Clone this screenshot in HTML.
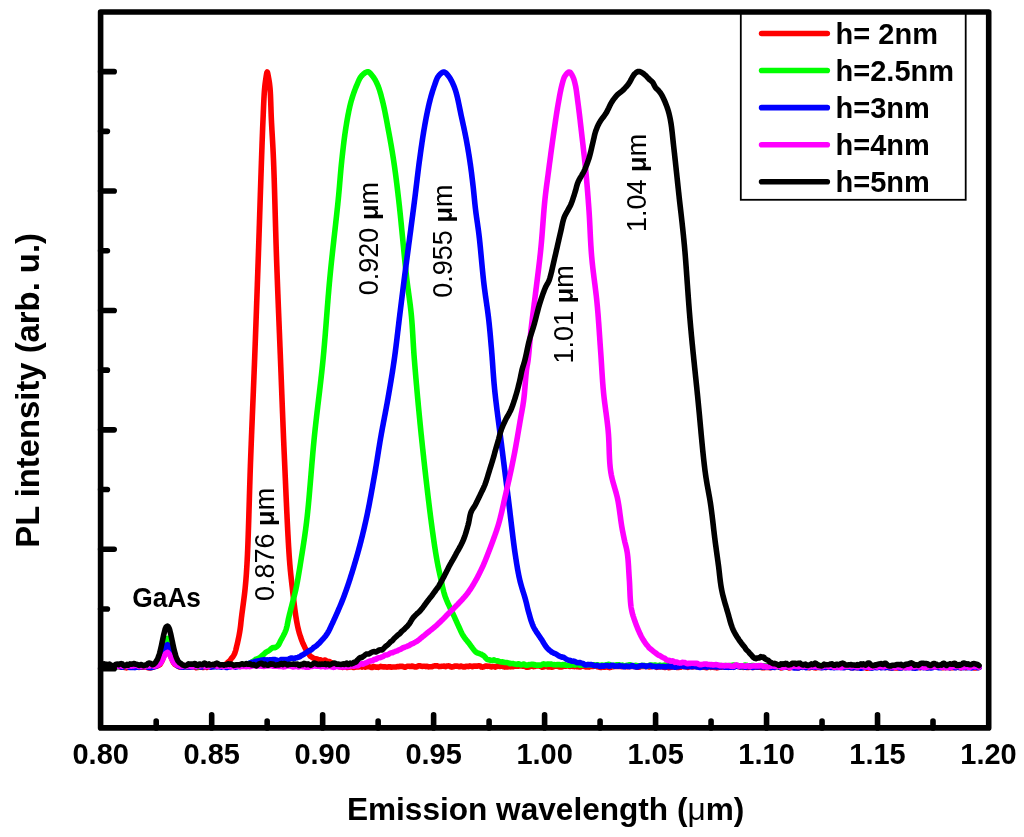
<!DOCTYPE html>
<html><head><meta charset="utf-8"><title>PL spectra</title>
<style>
html,body{margin:0;padding:0;background:#fff;}
svg{display:block;}
.b{font-family:"Liberation Sans",Arial,sans-serif;font-weight:bold;fill:#000;}
.r{font-family:"Liberation Sans",Arial,sans-serif;font-weight:normal;fill:#000;}
</style></head><body>
<svg width="1024" height="837" viewBox="0 0 1024 837">
<rect x="0" y="0" width="1024" height="837" fill="#fff"/>
<path d="M103.00,666.95L104.25,667.23L105.54,667.55L106.85,667.14L108.20,667.03L109.56,666.98L110.95,666.64L112.35,666.94L113.76,667.29L115.18,667.25L116.60,666.53L118.02,666.41L119.44,666.53L120.85,667.30L122.25,667.18L123.64,666.71L125.00,667.61L126.35,667.85L127.66,667.44L128.95,667.07L130.20,666.41L131.42,666.26L132.59,666.65L133.71,666.33L134.79,666.32L135.81,666.35L136.78,666.28L137.69,666.73L138.53,667.05L139.30,667.41L140.00,667.23L141.64,667.18L142.97,667.13L144.06,667.19L145.00,666.92L146.50,666.91L148.00,667.74L149.50,667.98L151.00,667.72L152.50,667.32L154.00,666.70L155.50,666.34L157.00,666.03L158.50,665.45L160.00,664.36L160.78,663.21L161.50,661.95L162.02,660.85L162.51,659.80L163.00,658.62L163.50,657.28L163.99,656.10L164.50,655.09L165.20,653.61L166.00,652.62L167.50,651.43L169.00,652.71L169.79,654.33L170.50,655.98L171.00,657.05L171.50,658.22L172.00,659.47L172.73,661.24L173.50,662.70L174.22,663.63L175.00,664.47L176.50,665.47L178.00,666.09L179.50,666.94L181.00,666.71L182.50,666.91L184.00,666.83L185.50,666.69L187.00,667.01L188.50,666.69L190.00,666.87L191.04,666.54L192.32,666.62L193.68,666.51L195.00,666.79L196.18,667.63L197.31,667.51L198.53,667.06L200.00,667.28L200.89,666.75L201.91,666.89L203.02,667.46L204.22,667.16L205.49,666.76L206.81,667.33L208.16,666.74L209.52,666.68L210.88,667.13L212.22,666.74L213.52,666.38L214.77,666.03L215.94,666.08L217.03,666.46L218.00,666.26L219.39,666.23L220.67,665.88L221.85,665.79L222.96,665.87L224.00,665.14L225.00,664.69L226.20,664.03L227.27,662.73L228.28,661.83L229.30,661.24L230.16,660.28L231.04,658.94L231.91,657.84L232.74,656.96L233.51,655.79L234.20,654.40L234.69,653.40L235.13,652.25L235.51,651.02L235.85,649.78L236.16,648.51L236.47,647.24L236.78,645.95L237.10,644.60L237.37,643.49L237.64,642.33L237.90,641.15L238.16,639.93L238.42,638.68L238.67,637.43L238.92,636.17L239.16,634.90L239.38,633.65L239.60,632.42L239.81,631.20L240.00,630.00L240.19,628.72L240.36,627.49L240.51,626.29L240.65,625.10L240.78,623.92L240.90,622.71L241.03,621.46L241.17,620.15L241.33,618.77L241.50,617.30L241.62,616.33L241.75,615.32L241.88,614.27L242.02,613.20L242.17,612.09L242.32,610.96L242.48,609.80L242.64,608.62L242.80,607.42L242.96,606.20L243.13,604.97L243.29,603.72L243.46,602.47L243.62,601.20L243.79,599.94L243.95,598.67L244.11,597.40L244.27,596.13L244.42,594.86L244.57,593.61L244.71,592.36L244.85,591.12L244.98,589.90L245.10,588.70L245.22,587.47L245.34,586.27L245.45,585.09L245.56,583.93L245.66,582.79L245.76,581.66L245.86,580.54L245.95,579.41L246.04,578.29L246.13,577.16L246.21,576.02L246.30,574.87L246.38,573.69L246.46,572.50L246.54,571.27L246.62,570.02L246.70,568.73L246.78,567.40L246.86,566.03L246.95,564.60L247.03,563.13L247.11,561.59L247.20,560.00L247.24,559.15L247.29,558.28L247.33,557.40L247.38,556.50L247.42,555.59L247.47,554.65L247.51,553.71L247.55,552.74L247.59,551.76L247.64,550.77L247.68,549.76L247.72,548.74L247.76,547.71L247.81,546.66L247.85,545.60L247.89,544.52L247.93,543.44L247.97,542.34L248.01,541.23L248.05,540.10L248.09,538.97L248.13,537.83L248.17,536.67L248.21,535.50L248.25,534.33L248.29,533.14L248.33,531.95L248.37,530.75L248.41,529.53L248.45,528.31L248.49,527.09L248.53,525.85L248.57,524.61L248.61,523.36L248.65,522.10L248.69,520.83L248.73,519.56L248.77,518.29L248.81,517.01L248.85,515.72L248.88,514.43L248.92,513.13L248.96,511.83L249.00,510.53L249.04,509.22L249.08,507.91L249.12,506.60L249.16,505.28L249.20,503.96L249.24,502.64L249.28,501.32L249.32,499.99L249.35,498.67L249.39,497.34L249.43,496.02L249.47,494.69L249.51,493.36L249.55,492.04L249.59,490.71L249.63,489.39L249.67,488.07L249.71,486.75L249.75,485.43L249.79,484.11L249.84,482.80L249.88,481.49L249.92,480.18L249.96,478.88L250.00,477.58L250.04,476.29L250.08,475.00L250.12,473.71L250.17,472.43L250.21,471.16L250.25,469.89L250.29,468.63L250.34,467.38L250.38,466.13L250.42,464.89L250.47,463.65L250.51,462.43L250.56,461.21L250.60,460.00L250.64,458.80L250.69,457.59L250.73,456.39L250.78,455.18L250.83,453.98L250.87,452.77L250.92,451.57L250.96,450.36L251.01,449.16L251.06,447.95L251.10,446.75L251.15,445.54L251.20,444.34L251.24,443.13L251.29,441.93L251.34,440.72L251.39,439.52L251.43,438.31L251.48,437.11L251.53,435.90L251.58,434.70L251.63,433.49L251.68,432.29L251.72,431.08L251.77,429.88L251.82,428.67L251.87,427.47L251.92,426.26L251.97,425.06L252.02,423.86L252.07,422.65L252.12,421.45L252.17,420.24L252.22,419.04L252.27,417.83L252.31,416.63L252.36,415.42L252.41,414.22L252.46,413.01L252.51,411.81L252.56,410.60L252.61,409.40L252.66,408.19L252.71,406.99L252.76,405.78L252.81,404.58L252.86,403.37L252.91,402.17L252.96,400.96L253.01,399.76L253.06,398.55L253.11,397.35L253.16,396.14L253.21,394.94L253.26,393.74L253.31,392.53L253.36,391.33L253.41,390.12L253.45,388.92L253.50,387.71L253.55,386.51L253.60,385.30L253.65,384.10L253.70,382.89L253.75,381.69L253.80,380.48L253.85,379.28L253.89,378.07L253.94,376.87L253.99,375.66L254.04,374.46L254.09,373.25L254.13,372.05L254.18,370.84L254.23,369.64L254.27,368.43L254.32,367.23L254.37,366.02L254.42,364.82L254.46,363.61L254.51,362.41L254.55,361.20L254.60,360.00L254.65,358.80L254.69,357.59L254.74,356.39L254.78,355.18L254.83,353.98L254.87,352.77L254.92,351.57L254.96,350.36L255.01,349.16L255.05,347.95L255.10,346.75L255.14,345.54L255.19,344.34L255.23,343.13L255.28,341.93L255.32,340.72L255.37,339.52L255.41,338.31L255.46,337.11L255.50,335.90L255.55,334.70L255.59,333.49L255.63,332.29L255.68,331.08L255.72,329.88L255.77,328.68L255.81,327.47L255.86,326.27L255.90,325.06L255.94,323.86L255.99,322.65L256.03,321.45L256.07,320.24L256.12,319.04L256.16,317.83L256.21,316.63L256.25,315.42L256.29,314.22L256.34,313.01L256.38,311.81L256.42,310.60L256.47,309.40L256.51,308.19L256.55,306.99L256.59,305.78L256.64,304.58L256.68,303.37L256.72,302.17L256.77,300.96L256.81,299.76L256.85,298.56L256.89,297.35L256.94,296.15L256.98,294.94L257.02,293.74L257.07,292.53L257.11,291.33L257.15,290.12L257.19,288.92L257.24,287.71L257.28,286.51L257.32,285.30L257.36,284.10L257.40,282.89L257.45,281.69L257.49,280.48L257.53,279.28L257.57,278.07L257.61,276.87L257.66,275.66L257.70,274.46L257.74,273.25L257.78,272.05L257.82,270.84L257.87,269.64L257.91,268.43L257.95,267.23L257.99,266.02L258.03,264.82L258.08,263.61L258.12,262.41L258.16,261.20L258.20,260.00L258.24,258.79L258.28,257.58L258.33,256.36L258.37,255.13L258.41,253.90L258.45,252.66L258.49,251.42L258.53,250.17L258.58,248.92L258.62,247.66L258.66,246.40L258.70,245.14L258.75,243.87L258.79,242.60L258.83,241.33L258.87,240.05L258.91,238.77L258.96,237.48L259.00,236.20L259.04,234.91L259.08,233.62L259.13,232.33L259.17,231.04L259.21,229.75L259.25,228.45L259.29,227.16L259.34,225.86L259.38,224.57L259.42,223.27L259.46,221.98L259.50,220.68L259.55,219.39L259.59,218.10L259.63,216.81L259.67,215.52L259.71,214.23L259.75,212.94L259.80,211.66L259.84,210.38L259.88,209.10L259.92,207.82L259.96,206.55L260.00,205.28L260.04,204.01L260.08,202.75L260.12,201.50L260.16,200.24L260.20,198.99L260.24,197.75L260.28,196.51L260.32,195.28L260.36,194.05L260.40,192.83L260.44,191.61L260.48,190.40L260.52,189.20L260.56,188.00L260.60,186.81L260.64,185.63L260.68,184.45L260.71,183.28L260.75,182.12L260.79,180.97L260.83,179.83L260.87,178.69L260.90,177.57L260.94,176.45L260.98,175.34L261.01,174.24L261.05,173.15L261.09,172.08L261.12,171.01L261.16,169.95L261.19,168.90L261.23,167.87L261.26,166.84L261.30,165.83L261.33,164.83L261.37,163.84L261.40,162.86L261.43,161.89L261.47,160.94L261.50,160.00L261.55,158.53L261.60,157.08L261.65,155.67L261.70,154.27L261.75,152.90L261.80,151.55L261.84,150.23L261.89,148.92L261.94,147.64L261.98,146.37L262.02,145.12L262.07,143.89L262.11,142.67L262.16,141.47L262.20,140.28L262.24,139.10L262.28,137.93L262.33,136.78L262.37,135.63L262.41,134.49L262.46,133.36L262.50,132.24L262.54,131.12L262.59,130.01L262.63,128.90L262.67,127.79L262.72,126.68L262.76,125.57L262.81,124.46L262.86,123.35L262.90,122.24L262.95,121.12L263.00,120.00L263.06,118.71L263.11,117.41L263.17,116.11L263.22,114.80L263.28,113.49L263.33,112.18L263.38,110.87L263.44,109.57L263.49,108.27L263.55,106.98L263.60,105.70L263.66,104.43L263.72,103.18L263.77,101.95L263.83,100.73L263.89,99.53L263.95,98.36L264.02,97.21L264.08,96.08L264.15,94.98L264.21,93.92L264.28,92.89L264.35,91.89L264.43,90.92L264.50,90.00L264.63,88.52L264.76,87.14L264.89,85.84L265.03,84.60L265.17,83.42L265.32,82.28L265.47,81.17L265.63,80.08L265.80,79.00L266.06,77.27L266.33,75.42L266.62,73.72L266.91,72.49L267.20,71.94L267.48,72.40L267.77,73.46L268.05,74.91L268.34,76.51L268.60,78.00L268.80,79.09L268.99,80.18L269.18,81.31L269.36,82.48L269.53,83.72L269.69,85.04L269.85,86.46L270.00,88.00L270.08,88.91L270.15,89.86L270.22,90.85L270.29,91.89L270.35,92.96L270.41,94.07L270.47,95.21L270.52,96.39L270.57,97.59L270.62,98.82L270.67,100.07L270.71,101.35L270.76,102.64L270.80,103.95L270.85,105.27L270.89,106.61L270.94,107.95L270.98,109.30L271.03,110.65L271.07,112.00L271.12,113.35L271.17,114.70L271.23,116.04L271.28,117.37L271.34,118.69L271.40,120.00L271.46,121.14L271.51,122.27L271.57,123.40L271.63,124.52L271.69,125.64L271.75,126.76L271.81,127.87L271.87,128.99L271.93,130.10L272.00,131.22L272.06,132.34L272.13,133.46L272.19,134.59L272.26,135.72L272.32,136.86L272.39,138.02L272.45,139.18L272.52,140.35L272.59,141.53L272.65,142.73L272.72,143.94L272.79,145.17L272.85,146.41L272.92,147.67L272.99,148.95L273.05,150.25L273.12,151.57L273.18,152.91L273.25,154.28L273.31,155.67L273.37,157.09L273.44,158.53L273.50,160.00L273.54,160.94L273.58,161.89L273.62,162.86L273.65,163.84L273.69,164.83L273.73,165.83L273.77,166.84L273.81,167.87L273.84,168.90L273.88,169.95L273.92,171.01L273.96,172.07L273.99,173.15L274.03,174.24L274.07,175.34L274.10,176.45L274.14,177.56L274.18,178.69L274.21,179.83L274.25,180.97L274.28,182.12L274.32,183.28L274.36,184.45L274.39,185.62L274.43,186.81L274.46,188.00L274.50,189.19L274.54,190.40L274.57,191.61L274.61,192.82L274.64,194.05L274.68,195.28L274.71,196.51L274.75,197.75L274.79,198.99L274.82,200.24L274.86,201.49L274.89,202.75L274.93,204.01L274.96,205.28L275.00,206.55L275.03,207.82L275.07,209.10L275.11,210.38L275.14,211.66L275.18,212.94L275.21,214.23L275.25,215.52L275.29,216.81L275.32,218.10L275.36,219.39L275.40,220.68L275.43,221.98L275.47,223.27L275.51,224.57L275.54,225.86L275.58,227.16L275.62,228.45L275.65,229.75L275.69,231.04L275.73,232.33L275.77,233.62L275.80,234.91L275.84,236.20L275.88,237.48L275.92,238.77L275.96,240.05L275.99,241.33L276.03,242.60L276.07,243.87L276.11,245.14L276.15,246.40L276.19,247.66L276.23,248.92L276.27,250.17L276.31,251.42L276.35,252.66L276.39,253.90L276.43,255.13L276.47,256.36L276.52,257.58L276.56,258.79L276.60,260.00L276.64,261.20L276.68,262.41L276.73,263.61L276.77,264.82L276.81,266.02L276.86,267.23L276.90,268.43L276.94,269.64L276.99,270.84L277.03,272.05L277.08,273.25L277.12,274.46L277.17,275.66L277.21,276.87L277.25,278.07L277.30,279.28L277.35,280.48L277.39,281.69L277.44,282.89L277.48,284.10L277.53,285.30L277.57,286.51L277.62,287.71L277.67,288.92L277.71,290.12L277.76,291.33L277.81,292.53L277.85,293.74L277.90,294.94L277.95,296.15L277.99,297.35L278.04,298.56L278.09,299.76L278.14,300.96L278.18,302.17L278.23,303.37L278.28,304.58L278.33,305.78L278.37,306.99L278.42,308.19L278.47,309.40L278.52,310.60L278.57,311.81L278.61,313.01L278.66,314.22L278.71,315.42L278.76,316.63L278.81,317.83L278.86,319.04L278.90,320.24L278.95,321.45L279.00,322.65L279.05,323.86L279.10,325.06L279.15,326.27L279.20,327.47L279.24,328.68L279.29,329.88L279.34,331.08L279.39,332.29L279.44,333.49L279.49,334.70L279.54,335.90L279.58,337.11L279.63,338.31L279.68,339.52L279.73,340.72L279.78,341.93L279.83,343.13L279.88,344.34L279.92,345.54L279.97,346.75L280.02,347.95L280.07,349.16L280.12,350.36L280.16,351.57L280.21,352.77L280.26,353.98L280.31,355.18L280.36,356.39L280.40,357.59L280.45,358.80L280.50,360.00L280.55,361.20L280.59,362.41L280.64,363.61L280.69,364.82L280.74,366.02L280.78,367.23L280.83,368.43L280.88,369.64L280.92,370.84L280.97,372.05L281.02,373.25L281.06,374.46L281.11,375.66L281.16,376.87L281.20,378.07L281.25,379.28L281.30,380.48L281.34,381.69L281.39,382.89L281.43,384.10L281.48,385.30L281.53,386.51L281.57,387.71L281.62,388.92L281.67,390.12L281.71,391.33L281.76,392.53L281.80,393.74L281.85,394.94L281.90,396.15L281.94,397.35L281.99,398.56L282.04,399.76L282.08,400.97L282.13,402.17L282.17,403.37L282.22,404.58L282.27,405.78L282.31,406.99L282.36,408.19L282.41,409.40L282.45,410.60L282.50,411.81L282.55,413.01L282.60,414.22L282.64,415.42L282.69,416.63L282.74,417.83L282.79,419.04L282.83,420.24L282.88,421.45L282.93,422.65L282.98,423.86L283.02,425.06L283.07,426.27L283.12,427.47L283.17,428.68L283.22,429.88L283.27,431.09L283.32,432.29L283.37,433.50L283.42,434.70L283.46,435.91L283.51,437.11L283.56,438.31L283.61,439.52L283.66,440.72L283.72,441.93L283.77,443.13L283.82,444.34L283.87,445.54L283.92,446.75L283.97,447.95L284.02,449.16L284.07,450.36L284.13,451.57L284.18,452.77L284.23,453.98L284.29,455.18L284.34,456.39L284.39,457.59L284.45,458.80L284.50,460.00L284.55,461.21L284.61,462.43L284.66,463.65L284.72,464.89L284.77,466.13L284.83,467.38L284.88,468.63L284.94,469.89L285.00,471.16L285.05,472.44L285.11,473.72L285.17,475.00L285.22,476.29L285.28,477.59L285.34,478.88L285.39,480.19L285.45,481.49L285.51,482.80L285.57,484.12L285.62,485.43L285.68,486.75L285.74,488.07L285.80,489.39L285.86,490.72L285.92,492.04L285.97,493.37L286.03,494.69L286.09,496.02L286.15,497.35L286.21,498.67L286.27,500.00L286.33,501.32L286.39,502.64L286.45,503.97L286.51,505.28L286.57,506.60L286.63,507.91L286.69,509.23L286.75,510.53L286.81,511.84L286.87,513.14L286.94,514.43L287.00,515.73L287.06,517.01L287.12,518.29L287.18,519.57L287.24,520.84L287.30,522.10L287.36,523.36L287.43,524.61L287.49,525.85L287.55,527.09L287.61,528.32L287.67,529.54L287.74,530.75L287.80,531.95L287.86,533.15L287.92,534.33L287.99,535.51L288.05,536.67L288.11,537.83L288.17,538.97L288.24,540.11L288.30,541.23L288.36,542.34L288.43,543.44L288.49,544.53L288.55,545.60L288.61,546.66L288.68,547.71L288.74,548.75L288.80,549.77L288.87,550.77L288.93,551.77L288.99,552.74L289.06,553.71L289.12,554.65L289.18,555.59L289.25,556.50L289.31,557.40L289.37,558.29L289.44,559.15L289.50,560.00L289.62,561.53L289.73,563.00L289.85,564.42L289.97,565.79L290.08,567.12L290.20,568.40L290.31,569.65L290.43,570.86L290.55,572.04L290.66,573.20L290.78,574.33L290.90,575.45L291.02,576.54L291.13,577.63L291.25,578.71L291.38,579.79L291.50,580.86L291.62,581.94L291.75,583.03L291.87,584.12L292.00,585.24L292.13,586.37L292.27,587.52L292.40,588.70L292.54,589.90L292.67,591.12L292.82,592.36L292.96,593.60L293.10,594.86L293.25,596.13L293.39,597.40L293.54,598.67L293.69,599.94L293.84,601.21L293.99,602.47L294.15,603.73L294.30,604.97L294.45,606.21L294.61,607.43L294.76,608.63L294.92,609.81L295.07,610.97L295.23,612.10L295.38,613.20L295.54,614.28L295.69,615.32L295.85,616.33L296.00,617.30L296.24,618.79L296.48,620.20L296.71,621.54L296.94,622.83L297.18,624.07L297.42,625.28L297.67,626.46L297.93,627.64L298.21,628.82L298.50,630.00L298.85,631.34L299.21,632.66L299.59,633.96L299.98,635.23L300.39,636.49L300.81,637.77L301.25,638.98L301.70,640.21L302.20,641.54L302.72,642.83L303.25,644.02L303.81,645.20L304.38,646.43L304.98,647.74L305.60,648.90L306.21,649.87L306.82,651.02L307.46,652.03L308.12,653.01L308.81,653.97L309.53,655.21L310.30,656.14L311.30,656.64L312.35,657.46L313.45,658.10L314.60,658.96L315.80,658.77L317.14,659.01L318.58,659.72L320.04,659.71L321.47,660.27L322.80,660.51L324.03,660.28L325.18,659.99L326.31,660.83L327.50,661.53L328.53,661.42L329.59,661.55L330.67,662.25L331.77,663.15L332.88,664.02L334.00,664.14L335.29,664.47L336.55,665.15L337.84,666.13L339.24,666.66L340.80,666.63L341.76,667.05L342.76,667.43L343.79,667.08L344.86,666.59L345.96,666.83L347.11,667.55L348.30,667.33L349.53,666.88L350.80,666.93L352.13,666.75L353.50,667.41L354.92,667.13L356.40,667.02L357.32,666.87L358.25,666.49L359.21,666.86L360.18,666.68L361.18,666.73L362.19,667.11L363.22,666.52L364.27,666.66L365.34,667.11L366.43,666.67L367.53,666.60L368.65,666.79L369.79,666.73L370.94,667.50L372.11,667.50L373.29,666.50L374.50,666.74L375.71,667.12L376.95,666.99L378.20,667.33L379.46,666.86L380.74,666.42L382.03,666.78L383.33,666.91L384.65,666.70L385.99,666.99L387.33,667.14L388.69,666.84L390.06,666.84L391.45,667.18L392.84,667.04L394.25,666.93L395.67,667.07L397.10,666.51L398.55,666.68L400.00,666.34L400.96,666.48L401.94,666.28L402.93,666.51L403.93,667.02L404.94,667.18L405.96,666.95L406.99,666.35L408.03,666.32L409.08,666.24L410.14,666.54L411.21,666.39L412.29,666.00L413.38,666.56L414.48,666.88L415.59,666.88L416.71,666.90L417.83,666.14L418.97,665.75L420.11,665.77L421.26,666.29L422.41,666.41L423.58,666.32L424.75,666.32L425.93,666.61L427.11,666.27L428.30,666.87L429.50,666.78L430.70,666.71L431.91,666.78L433.13,666.15L434.35,665.87L435.58,665.92L436.81,665.76L438.04,666.12L439.28,666.58L440.53,666.48L441.78,666.24L443.03,666.33L444.29,666.14L445.55,666.58L446.81,666.11L448.08,665.90L449.35,666.03L450.62,666.72L451.89,667.10L453.17,666.80L454.45,666.01L455.73,666.13L457.01,666.15L458.29,666.27L459.58,666.76L460.86,666.10L462.15,666.39L463.44,667.01L464.72,667.05L466.01,666.22L467.30,666.38L468.58,666.58L469.87,665.89L471.15,666.13L472.44,666.71L473.72,666.15L475.00,666.11L476.28,666.15L477.56,666.13L478.84,665.72L480.11,665.93L481.38,667.03L482.65,667.12L483.91,666.78L485.18,666.14L486.44,666.09L487.69,666.34L488.94,666.17L490.19,666.52L491.43,666.96L492.67,666.44L493.91,666.43L495.14,667.08L496.36,666.65L497.58,665.92L498.79,666.25L500.00,666.46L501.20,665.94L502.41,666.20L503.61,666.84L504.82,667.08L506.02,666.94L507.23,667.02L508.43,666.58L509.64,666.51L510.84,666.85L512.05,666.63L513.25,666.71L514.46,666.22L515.66,666.08L516.87,666.09L518.07,666.32L519.28,666.01L520.48,665.90L521.69,666.04L522.89,666.30L524.10,666.27L525.30,666.61L526.51,667.23L527.71,667.14L528.92,666.97L530.12,666.30L531.33,666.12L532.53,666.06L533.73,666.58L534.94,666.39L536.14,666.04L537.35,665.75L538.55,665.89L539.76,666.12L540.96,666.54L542.17,667.18L543.37,666.96L544.58,666.35L545.78,666.20L546.99,666.31L548.19,666.97L549.40,666.75L550.60,667.00L551.81,667.20L553.01,667.05L554.22,666.14L555.42,666.18L556.63,666.26L557.83,666.25L559.04,666.90L560.24,666.72L561.45,666.95L562.65,666.63L563.86,666.09L565.06,666.26L566.27,666.12L567.47,665.86L568.67,666.11L569.88,666.48L571.08,666.08L572.29,666.25L573.49,666.56L574.70,666.59L575.90,666.37L577.11,666.74L578.31,666.61L579.52,666.99L580.72,666.90L581.93,666.25L583.13,666.14L584.34,666.44L585.54,666.89L586.75,666.68L587.95,666.74L589.16,667.07L590.36,666.49L591.57,666.33L592.77,666.38L593.98,666.17L595.18,665.89L596.39,666.05L597.59,666.79L598.80,667.06L600.00,667.42L601.20,667.45L602.41,666.82L603.61,667.11L604.82,667.29L606.02,666.71L607.23,667.01L608.43,667.30L609.64,667.62L610.84,667.37L612.05,666.70L613.25,666.71L614.46,666.34L615.66,666.53L616.87,666.49L618.07,666.19L619.28,666.44L620.48,666.58L621.69,666.68L622.89,666.43L624.10,666.29L625.30,666.58L626.51,666.65L627.71,666.50L628.92,666.82L630.12,666.44L631.33,666.18L632.53,666.47L633.73,666.56L634.94,666.44L636.14,666.92L637.35,667.19L638.55,667.12L639.76,666.96L640.96,666.33L642.17,666.50L643.37,666.49L644.58,666.25L645.78,666.41L646.99,666.30L648.19,666.75L649.40,667.00L650.60,666.83L651.81,666.57L653.01,666.33L654.22,666.15L655.42,666.69L656.63,667.38L657.83,667.07L659.04,666.72L660.24,666.91L661.45,666.59L662.65,666.81L663.86,667.26L665.06,667.50L666.27,666.99L667.47,667.16L668.67,667.64L669.88,667.52L671.08,667.27L672.29,667.12L673.49,666.85L674.70,666.71L675.90,666.77L677.11,667.44L678.31,667.53L679.52,667.14L680.72,667.24L681.93,666.40L683.13,666.32L684.34,666.75L685.54,666.68L686.75,666.92L687.95,667.37L689.16,666.61L690.36,666.33L691.57,666.59L692.77,666.99L693.98,666.52L695.18,666.27L696.39,666.79L697.59,666.77L698.80,666.62L700.00,666.95L701.20,667.21L702.41,667.18L703.61,667.21L704.82,667.28L706.02,667.65L707.23,667.67L708.43,666.94L709.64,666.92L710.84,667.37L712.05,667.04L713.25,667.30L714.46,667.45L715.66,667.54L716.87,667.83L718.07,667.50L719.28,666.80L720.48,667.05L721.69,667.11L722.89,667.07L724.10,666.82L725.30,666.83L726.51,667.29L727.71,667.10L728.92,666.64L730.12,666.56L731.33,666.60L732.53,666.59L733.73,666.80L734.94,666.42L736.14,666.19L737.35,666.19L738.55,666.49L739.76,667.01L740.96,666.66L742.17,666.98L743.37,667.41L744.58,667.04L745.78,666.82L746.99,667.57L748.19,667.53L749.40,666.59L750.60,666.61L751.81,667.14L753.01,667.44L754.22,667.19L755.42,667.24L756.63,666.99L757.83,667.22L759.04,666.93L760.24,666.95L761.45,667.53L762.65,667.81L763.86,667.72L765.06,667.33L766.27,667.16L767.47,667.42L768.67,667.53L769.88,667.74L771.08,667.51L772.29,666.75L773.49,666.91L774.70,667.21L775.90,666.76L777.11,666.45L778.31,666.45L779.52,667.25L780.72,667.96L781.93,667.79L783.13,666.99L784.34,667.22L785.54,667.21L786.75,667.27L787.95,667.29L789.16,667.89L790.36,667.79L791.57,666.91L792.77,667.11L793.98,666.61L795.18,666.37L796.39,666.83L797.59,667.61L798.80,667.76L800.00,666.86L801.21,666.63L802.41,666.55L803.62,667.05L804.83,667.15L806.04,666.96L807.26,667.04L808.47,667.65L809.69,667.68L810.91,667.04L812.12,667.04L813.34,667.43L814.56,667.81L815.78,667.89L817.01,667.37L818.23,667.44L819.45,667.49L820.68,667.48L821.90,666.77L823.13,666.51L824.36,666.78L825.58,667.51L826.81,667.10L828.04,666.96L829.27,666.68L830.49,666.66L831.72,666.59L832.95,666.98L834.18,666.88L835.41,667.16L836.64,666.90L837.86,666.80L839.09,667.06L840.32,666.97L841.55,666.71L842.77,666.41L844.00,666.68L845.23,667.49L846.45,667.01L847.68,666.52L848.90,666.68L850.12,667.32L851.35,667.76L852.57,667.25L853.79,667.60L855.01,667.37L856.23,667.28L857.45,667.58L858.66,667.08L859.88,666.69L861.09,667.22L862.30,667.54L863.51,667.40L864.72,667.23L865.93,667.89L867.14,668.13L868.34,668.03L869.54,667.56L870.75,667.77L871.94,667.57L873.14,666.77L874.34,666.41L875.53,666.51L876.72,666.49L877.91,666.53L879.10,667.04L880.28,667.47L881.46,667.16L882.64,667.02L883.82,666.56L884.99,666.91L886.16,667.54L887.33,666.88L888.50,667.25L889.66,667.82L890.82,667.89L891.98,667.67L893.14,667.40L894.29,667.77L895.44,667.95L896.58,667.98L897.73,667.86L898.86,667.19L900.00,667.66L901.28,667.45L902.57,667.41L903.84,667.25L905.11,667.51L906.38,666.91L907.65,667.09L908.91,666.95L910.16,666.99L911.42,667.16L912.67,667.58L913.91,667.71L915.16,667.32L916.40,667.36L917.63,667.09L918.87,667.14L920.10,667.65L921.32,667.08L922.55,666.65L923.77,667.03L924.99,667.42L926.21,667.15L927.43,667.51L928.64,667.54L929.85,667.42L931.06,666.81L932.27,666.52L933.48,666.63L934.68,666.94L935.88,666.95L937.08,666.66L938.28,667.06L939.48,667.11L940.68,667.06L941.88,667.47L943.07,667.77L944.27,667.28L945.46,667.58L946.65,667.35L947.85,667.38L949.04,667.12L950.23,667.72L951.42,667.61L952.61,667.74L953.81,667.11L955.00,667.16L956.19,667.39L957.38,666.89L958.57,666.96L959.77,667.62L960.96,667.87L962.15,667.13L963.35,666.77L964.54,667.19L965.74,667.71L966.94,667.12L968.14,667.27L969.34,667.26L970.54,667.31L971.74,667.05L972.95,667.49L974.15,667.99L975.36,667.97L976.57,667.61L977.79,667.39L979.00,667.42" fill="none" stroke="#ff0000" stroke-width="5.6" stroke-linejoin="round" stroke-linecap="round"/>
<path d="M103.00,666.52L104.25,666.75L105.54,666.61L106.85,665.89L108.20,665.66L109.56,666.01L110.95,666.25L112.35,666.83L113.76,666.86L115.18,666.68L116.60,666.62L118.02,666.51L119.44,666.02L120.85,666.05L122.25,666.13L123.64,666.59L125.00,666.15L126.35,666.43L127.66,666.06L128.95,666.37L130.20,666.21L131.42,666.32L132.59,666.55L133.71,665.71L134.79,665.77L135.81,666.68L136.78,666.35L137.69,666.02L138.53,666.95L139.30,666.91L140.00,665.97L141.64,665.86L142.97,665.67L144.06,665.88L145.00,666.13L146.50,665.91L148.00,666.12L149.50,665.58L151.00,665.72L152.50,666.36L154.00,665.99L155.50,665.57L157.00,664.87L158.50,663.08L159.29,661.61L160.00,659.96L160.40,659.01L160.78,657.93L161.14,656.73L161.50,655.47L161.89,654.05L162.26,652.60L162.63,651.15L163.00,649.69L163.30,648.48L163.59,647.28L163.88,646.11L164.18,644.97L164.50,643.88L164.95,642.28L165.42,640.76L166.00,639.64L167.50,638.35L168.29,639.08L169.00,640.46L169.43,641.52L169.80,642.74L170.15,644.04L170.50,645.31L170.81,646.47L171.11,647.66L171.40,648.88L171.70,650.07L172.00,651.25L172.37,652.69L172.73,654.11L173.11,655.46L173.50,656.78L173.98,658.25L174.47,659.66L175.00,661.02L175.71,662.58L176.50,663.82L178.00,665.40L179.50,665.74L181.00,666.40L182.50,666.04L184.00,665.85L185.50,666.55L187.00,666.62L188.50,665.65L190.00,665.81L190.94,666.34L192.04,665.92L193.36,665.46L195.00,665.08L195.71,665.25L196.49,666.13L197.36,666.82L198.30,666.78L199.31,665.95L200.38,665.25L201.51,665.61L202.69,666.34L203.91,666.50L205.18,666.10L206.48,665.62L207.82,665.79L209.17,665.91L210.55,665.92L211.95,665.80L213.35,666.48L214.75,666.38L216.16,665.48L217.56,665.56L218.94,666.08L220.31,665.83L221.66,666.22L222.98,666.01L224.26,666.03L225.51,665.88L226.71,665.26L227.86,665.10L228.96,665.23L230.00,665.71L231.39,665.60L232.77,665.17L234.13,665.64L235.47,665.25L236.79,664.87L238.08,665.22L239.34,665.76L240.57,665.42L241.76,665.37L242.91,665.68L244.03,665.64L245.09,665.12L246.11,664.50L247.08,664.48L248.00,664.60L249.34,664.01L250.50,663.09L251.55,662.20L252.56,661.61L253.59,661.20L254.70,660.28L255.75,659.29L256.83,659.11L257.93,658.72L259.04,657.96L260.16,657.25L261.28,656.41L262.40,655.39L263.50,654.61L264.49,653.56L265.50,652.57L266.52,651.90L267.53,651.29L268.54,650.88L269.53,650.09L270.49,649.28L271.41,648.60L272.30,647.84L273.60,647.63L274.85,647.59L276.02,647.07L277.10,646.41L277.90,645.72L278.60,644.76L279.24,643.63L279.84,642.32L280.45,641.00L281.10,639.77L281.64,638.83L282.20,637.83L282.77,636.78L283.34,635.71L283.90,634.57L284.45,633.44L284.97,632.32L285.46,631.17L285.90,629.99L286.29,628.82L286.63,627.60L286.94,626.36L287.21,625.10L287.47,623.83L287.72,622.53L287.97,621.23L288.23,619.92L288.50,618.61L288.80,617.30L289.08,616.14L289.37,614.97L289.66,613.78L289.96,612.59L290.26,611.40L290.57,610.20L290.87,609.00L291.18,607.80L291.49,606.59L291.79,605.39L292.10,604.20L292.40,603.00L292.70,601.82L293.00,600.68L293.30,599.55L293.60,598.42L293.90,597.30L294.20,596.17L294.50,595.03L294.80,593.85L295.10,592.63L295.40,591.38L295.70,590.07L296.00,588.70L296.21,587.70L296.42,586.67L296.63,585.62L296.84,584.55L297.05,583.46L297.26,582.34L297.47,581.21L297.67,580.05L297.88,578.89L298.09,577.70L298.30,576.50L298.51,575.28L298.72,574.05L298.93,572.81L299.13,571.56L299.34,570.30L299.55,569.03L299.76,567.75L299.96,566.47L300.17,565.18L300.38,563.89L300.59,562.59L300.79,561.30L301.00,560.00L301.18,558.89L301.35,557.78L301.53,556.67L301.71,555.56L301.89,554.45L302.07,553.33L302.24,552.22L302.42,551.10L302.60,549.98L302.78,548.84L302.96,547.71L303.13,546.57L303.31,545.42L303.49,544.27L303.67,543.10L303.84,541.93L304.02,540.75L304.20,539.56L304.37,538.36L304.55,537.14L304.73,535.91L304.90,534.67L305.08,533.42L305.25,532.15L305.43,530.87L305.60,529.57L305.77,528.26L305.95,526.93L306.12,525.58L306.29,524.21L306.46,522.83L306.63,521.42L306.80,520.00L306.92,519.00L307.03,517.99L307.15,516.97L307.26,515.94L307.38,514.89L307.49,513.83L307.60,512.76L307.71,511.67L307.82,510.58L307.94,509.47L308.05,508.36L308.16,507.23L308.27,506.10L308.38,504.95L308.49,503.80L308.59,502.63L308.70,501.46L308.81,500.28L308.92,499.09L309.03,497.89L309.13,496.69L309.24,495.48L309.35,494.26L309.45,493.04L309.56,491.81L309.67,490.57L309.77,489.33L309.88,488.08L309.98,486.83L310.09,485.57L310.20,484.31L310.30,483.05L310.41,481.78L310.51,480.51L310.62,479.24L310.73,477.96L310.83,476.68L310.94,475.40L311.05,474.12L311.15,472.83L311.26,471.55L311.37,470.26L311.47,468.97L311.58,467.69L311.69,466.40L311.79,465.12L311.90,463.83L312.01,462.55L312.12,461.26L312.23,459.98L312.34,458.70L312.45,457.43L312.56,456.15L312.67,454.88L312.78,453.62L312.89,452.35L313.01,451.09L313.12,449.84L313.23,448.59L313.35,447.34L313.46,446.10L313.58,444.87L313.69,443.64L313.81,442.41L313.92,441.20L314.04,439.99L314.16,438.78L314.28,437.59L314.40,436.40L314.52,435.18L314.65,433.96L314.78,432.75L314.91,431.54L315.03,430.32L315.16,429.12L315.29,427.91L315.43,426.71L315.56,425.50L315.69,424.30L315.82,423.10L315.96,421.91L316.09,420.71L316.23,419.52L316.37,418.33L316.50,417.14L316.64,415.95L316.78,414.76L316.92,413.57L317.05,412.38L317.19,411.20L317.33,410.01L317.47,408.83L317.61,407.65L317.75,406.47L317.89,405.28L318.03,404.10L318.17,402.92L318.31,401.74L318.45,400.56L318.59,399.38L318.73,398.20L318.88,397.02L319.02,395.84L319.16,394.66L319.30,393.48L319.44,392.30L319.58,391.12L319.72,389.94L319.85,388.75L319.99,387.57L320.13,386.39L320.27,385.20L320.41,384.02L320.54,382.83L320.68,381.64L320.82,380.46L320.95,379.27L321.08,378.08L321.22,376.88L321.35,375.69L321.48,374.49L321.62,373.30L321.75,372.10L321.88,370.90L322.01,369.70L322.13,368.49L322.26,367.28L322.39,366.08L322.51,364.87L322.64,363.65L322.76,362.44L322.88,361.22L323.00,360.00L323.12,358.82L323.23,357.63L323.34,356.44L323.46,355.25L323.57,354.05L323.68,352.86L323.79,351.66L323.89,350.46L324.00,349.26L324.11,348.05L324.21,346.85L324.32,345.64L324.42,344.43L324.52,343.22L324.63,342.01L324.73,340.80L324.83,339.59L324.93,338.37L325.03,337.15L325.13,335.94L325.23,334.72L325.33,333.50L325.42,332.28L325.52,331.06L325.62,329.83L325.72,328.61L325.81,327.39L325.91,326.16L326.00,324.94L326.10,323.71L326.19,322.49L326.29,321.26L326.38,320.04L326.48,318.81L326.57,317.59L326.67,316.36L326.76,315.14L326.86,313.91L326.95,312.69L327.05,311.46L327.14,310.24L327.24,309.02L327.33,307.79L327.43,306.57L327.53,305.35L327.62,304.12L327.72,302.90L327.82,301.69L327.91,300.47L328.01,299.25L328.11,298.03L328.21,296.82L328.31,295.60L328.41,294.39L328.51,293.18L328.61,291.97L328.71,290.76L328.82,289.55L328.92,288.35L329.02,287.14L329.13,285.94L329.23,284.74L329.34,283.54L329.45,282.35L329.56,281.15L329.67,279.96L329.78,278.77L329.89,277.59L330.00,276.40L330.12,275.18L330.24,273.95L330.36,272.72L330.48,271.48L330.60,270.24L330.73,269.00L330.85,267.76L330.98,266.51L331.11,265.26L331.24,264.01L331.37,262.76L331.50,261.50L331.63,260.25L331.77,258.99L331.90,257.73L332.03,256.47L332.17,255.21L332.31,253.95L332.44,252.69L332.58,251.43L332.72,250.17L332.85,248.92L332.99,247.66L333.13,246.40L333.27,245.15L333.41,243.90L333.55,242.65L333.69,241.40L333.83,240.15L333.96,238.91L334.10,237.67L334.24,236.43L334.38,235.20L334.52,233.97L334.65,232.75L334.79,231.52L334.93,230.31L335.06,229.09L335.20,227.88L335.33,226.68L335.47,225.49L335.60,224.30L335.73,223.11L335.86,221.93L335.99,220.76L336.12,219.59L336.25,218.43L336.38,217.28L336.50,216.13L336.63,214.99L336.75,213.86L336.87,212.74L336.99,211.63L337.11,210.52L337.23,209.43L337.34,208.34L337.46,207.26L337.57,206.20L337.68,205.14L337.79,204.09L337.89,203.05L338.00,202.02L338.10,201.01L338.20,200.00L338.34,198.61L338.47,197.24L338.60,195.90L338.72,194.57L338.84,193.25L338.96,191.95L339.07,190.67L339.18,189.41L339.29,188.15L339.40,186.91L339.51,185.69L339.61,184.47L339.71,183.27L339.81,182.07L339.91,180.89L340.01,179.71L340.11,178.55L340.20,177.39L340.30,176.23L340.40,175.08L340.50,173.94L340.60,172.80L340.70,171.66L340.80,170.53L340.90,169.39L341.00,168.26L341.11,167.13L341.22,166.00L341.33,164.87L341.44,163.73L341.56,162.59L341.68,161.45L341.80,160.30L341.93,159.06L342.07,157.81L342.21,156.57L342.34,155.33L342.48,154.09L342.61,152.86L342.75,151.63L342.89,150.40L343.03,149.17L343.17,147.95L343.31,146.73L343.45,145.52L343.60,144.31L343.74,143.11L343.89,141.91L344.04,140.72L344.19,139.53L344.34,138.34L344.50,137.17L344.66,136.00L344.81,134.83L344.98,133.68L345.14,132.53L345.31,131.39L345.48,130.25L345.65,129.13L345.82,128.01L346.00,126.90L346.21,125.62L346.42,124.34L346.63,123.07L346.84,121.80L347.06,120.55L347.27,119.30L347.49,118.05L347.72,116.82L347.94,115.59L348.17,114.38L348.40,113.17L348.64,111.98L348.88,110.79L349.13,109.62L349.38,108.47L349.63,107.32L349.89,106.19L350.16,105.06L350.43,103.96L350.71,102.87L351.00,101.80L351.37,100.48L351.75,99.17L352.14,97.86L352.54,96.59L352.94,95.33L353.36,94.11L353.78,92.89L354.21,91.69L354.64,90.51L355.07,89.36L355.50,88.26L355.94,87.16L356.37,86.11L356.80,85.10L357.36,83.79L357.89,82.49L358.42,81.25L358.96,80.08L359.53,78.93L360.13,77.88L360.78,76.88L361.50,75.97L362.43,74.97L363.46,74.02L364.54,73.18L365.64,72.47L366.70,71.94L367.70,71.71L368.73,72.03L369.71,72.78L370.67,73.79L371.60,74.90L372.50,75.97L373.21,76.90L373.90,77.92L374.58,78.94L375.24,80.05L375.88,81.25L376.51,82.50L377.11,83.77L377.70,85.10L378.12,86.11L378.52,87.16L378.91,88.24L379.29,89.36L379.66,90.51L380.01,91.68L380.36,92.88L380.71,94.10L381.05,95.34L381.38,96.61L381.71,97.89L382.04,99.18L382.37,100.48L382.70,101.80L382.97,102.88L383.23,103.97L383.48,105.07L383.74,106.20L383.99,107.33L384.24,108.47L384.48,109.63L384.72,110.80L384.96,111.99L385.20,113.19L385.44,114.40L385.67,115.61L385.91,116.84L386.14,118.07L386.38,119.31L386.61,120.56L386.85,121.81L387.08,123.07L387.32,124.35L387.56,125.62L387.80,126.90L388.01,128.01L388.22,129.13L388.43,130.26L388.64,131.39L388.85,132.53L389.07,133.68L389.28,134.84L389.49,136.00L389.71,137.17L389.92,138.35L390.13,139.53L390.35,140.72L390.56,141.91L390.77,143.11L390.98,144.31L391.19,145.52L391.40,146.74L391.61,147.95L391.82,149.17L392.02,150.40L392.23,151.62L392.43,152.86L392.63,154.09L392.83,155.33L393.02,156.57L393.22,157.81L393.41,159.05L393.60,160.30L393.77,161.45L393.94,162.59L394.11,163.73L394.27,164.86L394.44,166.00L394.60,167.13L394.76,168.26L394.91,169.39L395.07,170.52L395.22,171.65L395.38,172.79L395.53,173.93L395.68,175.07L395.83,176.22L395.98,177.37L396.13,178.54L396.27,179.70L396.42,180.88L396.57,182.06L396.72,183.26L396.87,184.46L397.01,185.67L397.16,186.90L397.31,188.14L397.46,189.39L397.61,190.66L397.76,191.94L397.92,193.24L398.07,194.56L398.22,195.89L398.38,197.24L398.54,198.61L398.70,200.00L398.82,201.03L398.94,202.07L399.05,203.13L399.17,204.21L399.29,205.30L399.41,206.41L399.54,207.54L399.66,208.68L399.78,209.84L399.90,211.01L400.03,212.19L400.15,213.39L400.27,214.59L400.40,215.81L400.52,217.04L400.65,218.28L400.78,219.52L400.90,220.78L401.03,222.04L401.15,223.32L401.28,224.60L401.41,225.88L401.54,227.17L401.66,228.47L401.79,229.77L401.92,231.07L402.05,232.38L402.17,233.69L402.30,235.00L402.43,236.31L402.56,237.63L402.69,238.94L402.81,240.25L402.94,241.57L403.07,242.88L403.20,244.18L403.32,245.49L403.45,246.79L403.58,248.09L403.70,249.38L403.83,250.67L403.96,251.95L404.08,253.23L404.21,254.50L404.33,255.76L404.46,257.01L404.58,258.25L404.71,259.48L404.83,260.71L404.95,261.92L405.08,263.12L405.20,264.31L405.32,265.48L405.44,266.64L405.56,267.79L405.68,268.92L405.80,270.04L405.92,271.15L406.04,272.23L406.15,273.30L406.27,274.35L406.39,275.39L406.50,276.40L406.66,277.79L406.82,279.15L406.98,280.48L407.14,281.79L407.30,283.08L407.46,284.35L407.63,285.60L407.79,286.82L407.95,288.03L408.11,289.23L408.27,290.41L408.43,291.58L408.58,292.74L408.74,293.89L408.90,295.03L409.05,296.16L409.21,297.29L409.36,298.42L409.51,299.55L409.66,300.67L409.81,301.80L409.96,302.93L410.10,304.06L410.25,305.20L410.39,306.35L410.52,307.50L410.66,308.67L410.79,309.84L410.92,311.03L411.05,312.24L411.18,313.46L411.30,314.70L411.41,315.87L411.52,317.04L411.62,318.20L411.72,319.37L411.81,320.53L411.91,321.69L411.99,322.86L412.08,324.02L412.16,325.18L412.24,326.35L412.32,327.52L412.40,328.69L412.47,329.86L412.54,331.03L412.62,332.21L412.69,333.39L412.76,334.58L412.83,335.77L412.90,336.97L412.97,338.18L413.04,339.39L413.11,340.60L413.18,341.83L413.25,343.06L413.33,344.30L413.40,345.55L413.48,346.81L413.56,348.08L413.64,349.36L413.72,350.64L413.81,351.94L413.90,353.26L413.99,354.58L414.09,355.91L414.19,357.26L414.29,358.62L414.40,360.00L414.49,361.06L414.57,362.13L414.66,363.21L414.75,364.29L414.84,365.39L414.93,366.49L415.02,367.60L415.11,368.72L415.21,369.85L415.30,370.98L415.40,372.12L415.49,373.27L415.59,374.42L415.69,375.58L415.79,376.75L415.89,377.92L415.99,379.10L416.09,380.29L416.20,381.48L416.30,382.67L416.41,383.88L416.51,385.08L416.62,386.29L416.73,387.51L416.83,388.73L416.94,389.95L417.05,391.18L417.16,392.41L417.28,393.65L417.39,394.89L417.50,396.13L417.61,397.38L417.73,398.62L417.84,399.87L417.96,401.13L418.08,402.38L418.19,403.64L418.31,404.90L418.43,406.16L418.55,407.42L418.67,408.69L418.79,409.95L418.91,411.22L419.03,412.48L419.15,413.75L419.27,415.02L419.39,416.28L419.51,417.55L419.64,418.82L419.76,420.08L419.89,421.35L420.01,422.61L420.13,423.88L420.26,425.14L420.39,426.40L420.51,427.66L420.64,428.91L420.76,430.17L420.89,431.42L421.02,432.67L421.14,433.91L421.27,435.16L421.40,436.40L421.52,437.57L421.64,438.75L421.77,439.94L421.89,441.13L422.02,442.34L422.15,443.54L422.27,444.76L422.40,445.98L422.53,447.20L422.66,448.43L422.80,449.67L422.93,450.91L423.06,452.15L423.20,453.40L423.33,454.66L423.47,455.91L423.61,457.17L423.74,458.43L423.88,459.70L424.02,460.96L424.16,462.23L424.30,463.50L424.44,464.77L424.58,466.04L424.72,467.32L424.86,468.59L425.01,469.86L425.15,471.13L425.29,472.40L425.44,473.67L425.58,474.94L425.72,476.21L425.87,477.48L426.01,478.74L426.15,480.00L426.30,481.25L426.44,482.51L426.59,483.76L426.73,485.01L426.88,486.25L427.02,487.49L427.16,488.72L427.31,489.95L427.45,491.17L427.59,492.39L427.74,493.60L427.88,494.80L428.02,496.00L428.16,497.19L428.31,498.37L428.45,499.55L428.59,500.71L428.73,501.87L428.87,503.02L429.01,504.16L429.14,505.30L429.28,506.42L429.42,507.53L429.56,508.64L429.69,509.73L429.83,510.81L429.96,511.88L430.09,512.94L430.23,513.98L430.36,515.02L430.49,516.04L430.62,517.05L430.75,518.05L430.87,519.03L431.00,520.00L431.19,521.42L431.37,522.82L431.55,524.21L431.74,525.58L431.92,526.93L432.10,528.27L432.28,529.59L432.45,530.90L432.63,532.20L432.81,533.48L432.98,534.74L433.16,535.99L433.33,537.23L433.51,538.45L433.68,539.66L433.85,540.85L434.03,542.03L434.20,543.20L434.37,544.35L434.54,545.49L434.71,546.62L434.89,547.73L435.06,548.83L435.23,549.92L435.40,551.00L435.57,552.07L435.74,553.12L435.91,554.16L436.08,555.19L436.26,556.20L436.43,557.21L436.60,558.20L436.84,559.58L437.09,560.92L437.32,562.22L437.56,563.47L437.80,564.69L438.03,565.89L438.27,567.07L438.51,568.22L438.74,569.36L438.98,570.50L439.23,571.63L439.47,572.77L439.72,573.91L439.98,575.05L440.23,576.21L440.50,577.40L440.77,578.60L441.03,579.80L441.28,581.00L441.54,582.20L441.79,583.40L442.05,584.60L442.31,585.80L442.58,587.00L442.85,588.19L443.14,589.38L443.44,590.58L443.75,591.77L444.09,592.95L444.44,594.14L444.81,595.32L445.20,596.50L445.61,597.64L446.05,598.80L446.52,599.98L447.02,601.15L447.53,602.32L448.06,603.52L448.60,604.71L449.15,605.88L449.70,607.03L450.25,608.18L450.80,609.33L451.34,610.43L451.87,611.53L452.39,612.59L452.88,613.63L453.35,614.63L453.80,615.62L454.38,616.92L454.94,618.15L455.47,619.33L455.98,620.47L456.48,621.58L456.98,622.70L457.48,623.80L457.98,624.89L458.50,626.00L459.06,627.21L459.60,628.43L460.14,629.64L460.69,630.84L461.24,632.03L461.83,633.21L462.44,634.34L463.10,635.48L463.80,636.63L464.55,637.67L465.33,638.67L466.14,639.79L466.96,640.67L467.78,641.73L468.60,642.85L469.40,643.86L470.16,644.90L470.90,645.95L471.63,646.83L472.36,647.89L473.11,648.88L473.89,649.92L474.72,650.83L475.60,651.75L476.63,652.61L477.76,653.00L478.93,653.40L480.12,653.86L481.29,654.24L482.39,655.19L483.40,655.52L484.40,656.33L485.26,657.41L486.09,658.39L487.00,659.33L488.10,659.79L489.08,659.85L490.17,660.06L491.35,660.57L492.59,660.41L493.87,659.92L495.17,660.50L496.48,660.84L497.76,660.83L499.00,661.44L500.20,661.83L501.38,662.01L502.54,661.82L503.70,662.31L504.87,662.57L506.07,662.57L507.32,662.64L508.62,662.93L510.00,663.75L511.09,663.54L512.20,663.48L513.35,663.63L514.53,664.03L515.73,664.32L516.95,664.50L518.20,663.83L519.48,664.09L520.77,664.85L522.09,664.73L523.42,663.99L524.77,664.43L526.13,665.30L527.51,665.26L528.90,664.64L530.30,664.76L531.38,664.33L532.46,664.20L533.55,664.83L534.65,664.59L535.75,665.15L536.86,665.02L537.98,665.15L539.11,665.03L540.25,665.35L541.41,665.10L542.57,664.25L543.74,663.89L544.92,664.19L546.12,664.60L547.33,664.14L548.55,664.01L549.78,664.25L551.03,664.07L552.30,664.39L553.58,664.74L554.87,664.60L556.18,664.92L557.51,664.54L558.86,664.47L560.22,664.76L561.60,665.01L562.63,664.52L563.68,664.85L564.74,664.64L565.80,665.28L566.88,665.21L567.97,665.20L569.07,665.06L570.18,665.17L571.30,665.04L572.43,664.39L573.57,664.54L574.71,665.18L575.87,664.63L577.04,664.30L578.21,664.36L579.39,665.16L580.58,665.22L581.77,664.67L582.98,665.09L584.19,664.67L585.41,664.85L586.63,664.94L587.86,664.66L589.10,664.72L590.34,665.09L591.59,665.32L592.84,664.78L594.10,664.85L595.37,665.50L596.63,664.86L597.91,664.71L599.18,665.70L600.47,665.75L601.75,664.99L603.04,665.25L604.33,665.59L605.63,665.06L606.92,664.72L608.22,664.37L609.53,664.60L610.83,665.21L612.14,665.44L613.45,665.69L614.75,665.25L616.07,664.92L617.38,664.90L618.69,664.78L620.00,665.20L621.12,665.41L622.24,665.03L623.37,665.50L624.50,666.07L625.63,665.71L626.77,665.25L627.91,665.29L629.05,664.75L630.20,664.83L631.35,665.67L632.50,665.81L633.66,665.64L634.82,665.44L635.98,665.36L637.15,665.75L638.32,665.69L639.49,665.91L640.67,665.76L641.85,665.42L643.03,665.67L644.22,665.40L645.41,665.64L646.60,666.09L647.79,666.19L648.99,665.64L650.19,664.96L651.39,665.02L652.59,665.63L653.80,665.19L655.01,664.95L656.22,665.36L657.44,665.48L658.66,665.59L659.88,665.16L661.10,665.53L662.33,665.91L663.55,665.20L664.78,665.15L666.01,665.14L667.25,664.82L668.49,664.80L669.72,665.12L670.96,665.32L672.21,665.11L673.45,665.46L674.70,665.32L675.95,665.35L677.20,665.97L678.45,665.94L679.71,665.45L680.96,665.20L682.22,665.50L683.48,665.83L684.74,665.99L686.01,665.64L687.27,664.84L688.54,665.12L689.80,666.06L691.07,665.83L692.35,665.44L693.62,665.21L694.89,665.91L696.17,666.03L697.44,665.39L698.72,665.05L700.00,664.88L701.14,665.19L702.28,665.52L703.43,665.35L704.58,664.81L705.73,664.81L706.88,665.27L708.04,666.14L709.20,666.52L710.36,666.30L711.53,665.75L712.70,665.66L713.87,666.22L715.04,666.23L716.22,666.07L717.40,666.19L718.58,666.35L719.76,665.83L720.95,665.52L722.13,666.10L723.32,666.26L724.51,665.53L725.71,665.60L726.90,666.17L728.10,666.07L729.30,665.46L730.50,665.87L731.70,665.44L732.91,665.03L734.12,665.06L735.32,665.56L736.53,665.61L737.74,665.50L738.95,665.84L740.17,665.72L741.38,666.47L742.60,666.60L743.82,665.67L745.03,665.03L746.25,665.16L747.47,665.70L748.69,665.85L749.91,666.16L751.14,665.82L752.36,665.44L753.58,665.61L754.81,666.53L756.03,666.57L757.26,666.18L758.48,665.67L759.71,665.90L760.94,666.35L762.16,666.19L763.39,665.72L764.62,665.86L765.84,666.16L767.07,665.66L768.30,666.12L769.53,666.37L770.75,666.18L771.98,666.31L773.21,666.55L774.43,666.13L775.66,666.41L776.88,666.57L778.11,666.30L779.33,665.73L780.56,666.11L781.78,665.88L783.00,665.77L784.22,666.39L785.44,665.99L786.66,665.92L787.88,665.72L789.10,665.49L790.31,665.78L791.53,666.28L792.74,666.49L793.96,666.40L795.17,665.75L796.38,665.89L797.59,666.52L798.79,666.47L800.00,666.50L801.21,666.22L802.41,665.90L803.62,665.74L804.83,666.62L806.04,666.97L807.26,666.55L808.47,666.02L809.69,666.36L810.91,666.43L812.12,665.99L813.34,666.16L814.56,666.59L815.78,666.17L817.01,666.11L818.23,665.54L819.45,665.28L820.68,665.41L821.90,666.02L823.13,666.77L824.36,666.55L825.58,666.15L826.81,665.86L828.04,666.06L829.27,665.67L830.49,665.53L831.72,665.81L832.95,666.05L834.18,666.59L835.41,666.57L836.64,666.42L837.86,666.05L839.09,665.93L840.32,665.70L841.55,666.10L842.77,666.93L844.00,666.68L845.23,666.25L846.45,666.60L847.68,667.04L848.90,666.91L850.12,666.36L851.35,665.73L852.57,665.45L853.79,665.75L855.01,666.69L856.23,666.92L857.45,666.81L858.66,666.56L859.88,666.03L861.09,666.10L862.30,665.58L863.51,665.61L864.72,666.11L865.93,665.75L867.14,665.98L868.34,666.30L869.54,666.71L870.75,666.21L871.94,666.01L873.14,666.33L874.34,666.21L875.53,667.01L876.72,667.32L877.91,667.22L879.10,666.60L880.28,665.90L881.46,665.96L882.64,666.50L883.82,666.48L884.99,666.50L886.16,666.13L887.33,666.50L888.50,666.77L889.66,666.41L890.82,666.57L891.98,666.15L893.14,666.26L894.29,665.78L895.44,665.70L896.58,665.62L897.73,665.85L898.86,666.44L900.00,666.94L901.28,667.10L902.57,666.95L903.84,666.44L905.11,666.82L906.38,666.57L907.65,666.68L908.91,666.66L910.16,666.12L911.42,666.01L912.67,666.17L913.91,666.28L915.16,666.79L916.40,667.04L917.63,666.58L918.87,666.04L920.10,666.71L921.32,667.08L922.55,667.00L923.77,666.40L924.99,666.78L926.21,666.49L927.43,666.31L928.64,665.96L929.85,665.94L931.06,666.24L932.27,666.36L933.48,666.15L934.68,666.35L935.88,666.22L937.08,666.09L938.28,666.40L939.48,666.05L940.68,665.64L941.88,665.86L943.07,666.25L944.27,666.34L945.46,666.08L946.65,666.54L947.85,666.23L949.04,666.60L950.23,665.92L951.42,665.90L952.61,666.19L953.81,666.38L955.00,665.84L956.19,666.00L957.38,666.87L958.57,666.88L959.77,665.85L960.96,665.64L962.15,665.98L963.35,666.24L964.54,666.75L965.74,667.09L966.94,666.69L968.14,666.13L969.34,665.80L970.54,665.55L971.74,665.83L972.95,666.83L974.15,666.96L975.36,666.27L976.57,666.15L977.79,666.63L979.00,666.10" fill="none" stroke="#00ff00" stroke-width="5.6" stroke-linejoin="round" stroke-linecap="round"/>
<path d="M103.00,666.47L104.25,667.01L105.54,667.26L106.85,667.19L108.20,666.44L109.56,666.18L110.95,666.13L112.35,666.40L113.76,666.82L115.18,666.45L116.60,666.56L118.02,666.37L119.44,666.39L120.85,666.77L122.25,667.24L123.64,666.87L125.00,666.14L126.35,666.17L127.66,666.42L128.95,667.25L130.20,667.47L131.42,667.45L132.59,667.44L133.71,667.43L134.79,667.59L135.81,667.26L136.78,666.76L137.69,667.13L138.53,667.04L139.30,667.14L140.00,666.96L141.64,666.68L142.97,666.57L144.06,666.58L145.00,666.38L146.50,666.37L148.00,667.17L149.50,667.51L151.00,667.61L152.50,667.22L154.00,666.90L155.50,666.53L157.00,665.50L158.50,664.31L159.28,663.12L160.00,661.72L160.53,660.60L161.02,659.41L161.50,658.09L161.89,657.00L162.26,655.85L162.63,654.63L163.00,653.43L163.37,652.27L163.74,651.05L164.11,649.85L164.50,648.73L164.96,647.46L165.44,646.23L166.00,645.42L167.50,644.68L169.00,646.10L169.55,647.26L170.03,648.61L170.50,649.92L170.88,651.09L171.26,652.38L171.62,653.62L172.00,654.79L172.49,656.26L172.98,657.79L173.50,659.31L173.98,660.54L174.47,661.65L175.00,662.59L175.72,663.86L176.50,664.80L178.00,665.97L179.50,666.31L181.00,667.17L182.50,667.19L184.00,666.99L185.50,666.58L187.00,666.86L188.50,666.99L190.00,666.89L190.94,666.76L192.04,666.96L193.36,666.61L195.00,666.33L195.71,666.37L196.50,666.73L197.38,666.29L198.33,666.13L199.35,666.24L200.43,666.87L201.58,667.01L202.77,666.76L204.02,666.30L205.30,666.57L206.62,666.53L207.97,666.15L209.35,666.36L210.74,667.23L212.15,666.63L213.56,666.48L214.97,666.66L216.38,666.85L217.79,666.50L219.17,666.73L220.53,666.96L221.87,667.15L223.18,666.43L224.44,666.55L225.66,667.06L226.84,667.51L227.95,667.09L229.01,666.89L230.00,666.92L231.49,666.34L232.94,665.97L234.34,666.54L235.69,667.10L237.01,666.75L238.28,666.15L239.50,666.44L240.69,666.44L241.83,665.76L242.93,665.66L243.98,665.27L245.00,664.85L246.28,664.49L247.42,664.08L248.48,663.67L249.52,663.06L250.60,662.77L251.80,662.39L252.86,662.66L253.96,662.18L255.10,661.40L256.26,661.53L257.45,660.96L258.68,660.82L259.93,660.69L261.20,660.21L262.50,659.94L263.60,659.87L264.75,659.79L265.93,660.23L267.14,659.88L268.37,660.22L269.62,659.82L270.87,659.74L272.11,659.78L273.36,659.44L274.58,659.53L275.79,659.90L276.96,660.27L278.10,660.85L279.51,660.70L280.90,659.66L282.28,659.60L283.64,659.45L284.98,659.78L286.28,659.55L287.56,659.76L288.80,659.23L290.00,658.35L291.40,657.95L292.75,658.31L294.04,658.72L295.30,658.02L296.55,657.80L297.80,657.40L298.95,656.99L300.07,656.59L301.18,655.64L302.29,655.12L303.39,654.50L304.49,653.83L305.60,652.96L306.72,652.38L307.84,651.48L308.96,650.84L310.09,650.33L311.20,649.84L312.31,649.02L313.40,647.77L314.42,646.95L315.45,646.43L316.47,645.74L317.48,644.73L318.47,643.78L319.45,643.00L320.39,641.88L321.30,640.81L322.16,639.86L323.00,638.98L323.82,638.13L324.62,637.10L325.39,636.18L326.13,635.22L326.83,634.20L327.50,633.14L328.15,632.05L328.72,631.04L329.24,630.03L329.75,628.98L330.28,627.84L330.85,626.60L331.50,625.19L331.86,624.42L332.25,623.61L332.65,622.73L333.07,621.82L333.51,620.89L333.95,619.90L334.42,618.88L334.89,617.84L335.37,616.78L335.87,615.69L336.37,614.58L336.88,613.44L337.39,612.29L337.90,611.11L338.42,609.92L338.94,608.72L339.46,607.50L339.98,606.27L340.49,605.04L341.00,603.82L341.51,602.60L342.00,601.36L342.49,600.12L342.97,598.91L343.44,597.70L343.90,596.49L344.30,595.42L344.70,594.34L345.10,593.25L345.50,592.14L345.90,591.02L346.30,589.91L346.69,588.78L347.09,587.65L347.48,586.50L347.87,585.35L348.26,584.20L348.65,583.03L349.04,581.87L349.42,580.70L349.80,579.52L350.18,578.35L350.56,577.16L350.94,575.97L351.31,574.78L351.69,573.60L352.06,572.40L352.43,571.21L352.79,570.02L353.15,568.84L353.52,567.64L353.87,566.45L354.23,565.27L354.58,564.08L354.93,562.89L355.28,561.71L355.62,560.54L355.96,559.37L356.30,558.20L356.64,557.01L356.98,555.82L357.31,554.64L357.65,553.47L357.98,552.29L358.30,551.11L358.62,549.93L358.94,548.76L359.26,547.59L359.58,546.41L359.89,545.23L360.20,544.06L360.51,542.88L360.81,541.70L361.11,540.52L361.41,539.34L361.71,538.15L362.01,536.98L362.30,535.79L362.60,534.59L362.89,533.41L363.18,532.21L363.47,531.01L363.75,529.81L364.04,528.60L364.32,527.39L364.60,526.17L364.89,524.95L365.17,523.72L365.44,522.49L365.72,521.25L366.00,520.00L366.25,518.86L366.50,517.71L366.75,516.55L367.00,515.39L367.24,514.22L367.49,513.04L367.73,511.85L367.97,510.67L368.21,509.48L368.45,508.28L368.69,507.08L368.92,505.88L369.16,504.67L369.39,503.46L369.62,502.24L369.85,501.03L370.08,499.81L370.31,498.59L370.54,497.37L370.76,496.16L370.98,494.94L371.21,493.73L371.43,492.51L371.65,491.30L371.87,490.08L372.08,488.87L372.30,487.67L372.52,486.46L372.73,485.26L372.94,484.06L373.15,482.87L373.36,481.69L373.57,480.51L373.78,479.33L373.99,478.16L374.19,477.00L374.40,475.84L374.60,474.70L374.82,473.46L375.03,472.22L375.25,470.99L375.45,469.76L375.66,468.54L375.86,467.33L376.06,466.11L376.26,464.90L376.46,463.70L376.65,462.50L376.85,461.30L377.04,460.10L377.23,458.91L377.42,457.72L377.61,456.53L377.80,455.35L377.98,454.16L378.17,452.98L378.36,451.80L378.55,450.62L378.73,449.44L378.92,448.26L379.11,447.07L379.30,445.89L379.50,444.71L379.69,443.53L379.89,442.34L380.08,441.16L380.28,439.98L380.49,438.78L380.69,437.59L380.90,436.40L381.11,435.20L381.32,434.01L381.54,432.81L381.76,431.62L381.97,430.43L382.19,429.23L382.42,428.04L382.64,426.84L382.86,425.65L383.09,424.45L383.32,423.26L383.54,422.07L383.77,420.88L384.00,419.68L384.23,418.49L384.46,417.30L384.68,416.11L384.91,414.91L385.14,413.72L385.37,412.52L385.59,411.33L385.82,410.14L386.05,408.94L386.27,407.75L386.49,406.56L386.71,405.36L386.93,404.17L387.15,402.98L387.37,401.78L387.58,400.59L387.79,399.40L388.00,398.20L388.21,397.01L388.41,395.82L388.62,394.64L388.82,393.45L389.03,392.27L389.23,391.09L389.43,389.91L389.64,388.74L389.84,387.56L390.04,386.38L390.24,385.20L390.43,384.03L390.63,382.85L390.83,381.67L391.02,380.49L391.22,379.31L391.41,378.13L391.60,376.95L391.80,375.76L391.99,374.58L392.18,373.38L392.37,372.19L392.55,370.99L392.74,369.79L392.93,368.58L393.11,367.37L393.30,366.16L393.48,364.94L393.66,363.71L393.84,362.48L394.02,361.24L394.20,360.00L394.36,358.86L394.52,357.71L394.68,356.54L394.84,355.38L395.00,354.21L395.15,353.03L395.31,351.85L395.46,350.66L395.62,349.46L395.77,348.27L395.92,347.06L396.07,345.86L396.22,344.65L396.37,343.44L396.51,342.23L396.66,341.01L396.81,339.79L396.95,338.58L397.10,337.36L397.24,336.14L397.39,334.93L397.53,333.71L397.67,332.49L397.82,331.28L397.96,330.07L398.10,328.86L398.24,327.65L398.38,326.45L398.53,325.25L398.67,324.06L398.81,322.87L398.95,321.68L399.09,320.50L399.23,319.33L399.37,318.16L399.52,317.00L399.66,315.85L399.80,314.70L399.95,313.46L400.11,312.24L400.26,311.04L400.40,309.85L400.55,308.67L400.69,307.51L400.84,306.35L400.98,305.21L401.12,304.07L401.26,302.93L401.40,301.80L401.54,300.68L401.68,299.55L401.82,298.42L401.96,297.30L402.10,296.17L402.24,295.03L402.39,293.89L402.53,292.74L402.68,291.58L402.82,290.41L402.97,289.23L403.12,288.03L403.28,286.82L403.43,285.59L403.59,284.34L403.75,283.08L403.91,281.79L404.08,280.48L404.25,279.15L404.42,277.79L404.60,276.40L404.73,275.40L404.86,274.39L404.99,273.35L405.13,272.30L405.27,271.23L405.41,270.14L405.55,269.04L405.70,267.93L405.84,266.80L405.99,265.66L406.14,264.50L406.29,263.34L406.45,262.16L406.61,260.97L406.76,259.77L406.92,258.56L407.08,257.33L407.24,256.10L407.41,254.87L407.57,253.62L407.74,252.37L407.90,251.11L408.07,249.84L408.24,248.57L408.41,247.30L408.57,246.02L408.74,244.74L408.91,243.45L409.08,242.16L409.26,240.87L409.43,239.58L409.60,238.28L409.77,236.99L409.94,235.70L410.11,234.41L410.28,233.12L410.45,231.83L410.62,230.54L410.79,229.26L410.96,227.98L411.12,226.71L411.29,225.44L411.46,224.18L411.62,222.92L411.79,221.67L411.95,220.43L412.11,219.20L412.27,217.97L412.43,216.75L412.59,215.55L412.75,214.35L412.90,213.17L413.05,211.99L413.21,210.83L413.35,209.68L413.50,208.54L413.65,207.42L413.79,206.31L413.93,205.22L414.07,204.14L414.21,203.08L414.34,202.04L414.47,201.01L414.60,200.00L414.78,198.61L414.95,197.25L415.12,195.90L415.28,194.57L415.44,193.25L415.60,191.95L415.76,190.67L415.91,189.40L416.06,188.15L416.21,186.91L416.36,185.69L416.50,184.47L416.64,183.27L416.79,182.07L416.93,180.89L417.07,179.71L417.20,178.54L417.34,177.38L417.48,176.23L417.62,175.08L417.76,173.94L417.90,172.80L418.04,171.66L418.18,170.53L418.32,169.39L418.46,168.26L418.60,167.13L418.75,166.00L418.89,164.86L419.04,163.73L419.19,162.59L419.34,161.45L419.50,160.30L419.67,159.05L419.84,157.81L420.01,156.57L420.18,155.33L420.35,154.10L420.52,152.86L420.70,151.63L420.87,150.40L421.04,149.17L421.21,147.95L421.39,146.73L421.56,145.52L421.74,144.31L421.91,143.11L422.09,141.91L422.27,140.72L422.45,139.53L422.63,138.35L422.81,137.17L422.99,136.00L423.17,134.84L423.36,133.68L423.55,132.53L423.73,131.39L423.92,130.26L424.11,129.13L424.31,128.01L424.50,126.90L424.73,125.62L424.95,124.34L425.18,123.07L425.41,121.81L425.64,120.56L425.88,119.30L426.11,118.06L426.34,116.83L426.58,115.60L426.82,114.39L427.06,113.18L427.30,111.99L427.55,110.81L427.80,109.63L428.05,108.47L428.30,107.33L428.55,106.20L428.81,105.07L429.07,103.97L429.33,102.87L429.60,101.79L429.93,100.48L430.27,99.17L430.62,97.88L430.97,96.61L431.32,95.35L431.68,94.11L432.04,92.89L432.41,91.69L432.77,90.53L433.14,89.39L433.50,88.27L433.87,87.17L434.24,86.12L434.60,85.10L435.06,83.78L435.50,82.50L435.93,81.26L436.37,80.08L436.83,78.94L437.32,77.86L437.88,76.88L438.50,76.01L439.45,74.87L440.50,73.81L441.62,72.89L442.74,72.24L443.80,71.99L444.77,72.25L445.73,72.87L446.67,73.79L447.59,74.88L448.50,75.98L449.12,76.81L449.74,77.77L450.35,78.76L450.95,79.80L451.55,80.91L452.14,82.07L452.72,83.31L453.28,84.59L453.84,85.93L454.38,87.29L454.90,88.70L455.24,89.66L455.57,90.67L455.89,91.72L456.20,92.81L456.51,93.93L456.82,95.08L457.11,96.26L457.40,97.47L457.69,98.70L457.97,99.95L458.25,101.21L458.52,102.48L458.79,103.76L459.06,105.04L459.32,106.33L459.58,107.61L459.84,108.89L460.09,110.16L460.35,111.41L460.60,112.65L460.85,113.88L461.10,115.08L461.35,116.26L461.60,117.40L461.88,118.66L462.16,119.91L462.43,121.15L462.70,122.38L462.97,123.60L463.23,124.81L463.49,126.01L463.75,127.21L464.00,128.40L464.26,129.59L464.51,130.77L464.75,131.96L465.00,133.14L465.24,134.33L465.47,135.51L465.71,136.70L465.94,137.89L466.17,139.09L466.40,140.30L466.62,141.51L466.85,142.72L467.06,143.92L467.28,145.13L467.49,146.34L467.70,147.55L467.91,148.76L468.12,149.97L468.32,151.18L468.52,152.39L468.71,153.60L468.91,154.82L469.10,156.03L469.29,157.24L469.48,158.45L469.66,159.66L469.84,160.88L470.02,162.09L470.20,163.30L470.37,164.51L470.54,165.72L470.71,166.92L470.88,168.13L471.04,169.34L471.20,170.55L471.35,171.75L471.51,172.96L471.66,174.17L471.81,175.38L471.95,176.59L472.10,177.80L472.25,179.01L472.39,180.22L472.53,181.43L472.68,182.65L472.82,183.86L472.96,185.08L473.10,186.30L473.24,187.54L473.38,188.77L473.51,190.01L473.64,191.25L473.77,192.49L473.89,193.72L474.02,194.96L474.14,196.20L474.26,197.44L474.39,198.69L474.51,199.93L474.64,201.18L474.76,202.43L474.89,203.68L475.03,204.94L475.16,206.20L475.30,207.46L475.45,208.73L475.60,210.00L475.75,211.20L475.90,212.38L476.05,213.56L476.21,214.73L476.37,215.90L476.53,217.06L476.70,218.23L476.87,219.40L477.04,220.56L477.21,221.74L477.38,222.93L477.55,224.13L477.72,225.34L477.90,226.57L478.07,227.82L478.25,229.08L478.42,230.37L478.59,231.69L478.76,233.03L478.93,234.40L479.10,235.80L479.22,236.82L479.34,237.87L479.46,238.93L479.57,240.02L479.69,241.12L479.81,242.24L479.93,243.38L480.04,244.53L480.16,245.70L480.28,246.88L480.39,248.07L480.51,249.28L480.63,250.49L480.75,251.72L480.86,252.95L480.98,254.19L481.10,255.44L481.21,256.69L481.33,257.95L481.45,259.21L481.57,260.48L481.68,261.74L481.80,263.01L481.92,264.27L482.04,265.54L482.16,266.80L482.28,268.05L482.40,269.31L482.52,270.55L482.64,271.79L482.77,273.02L482.89,274.25L483.01,275.46L483.14,276.66L483.26,277.86L483.39,279.03L483.51,280.20L483.64,281.35L483.77,282.48L483.90,283.60L484.05,284.88L484.21,286.15L484.36,287.41L484.52,288.67L484.69,289.91L484.85,291.15L485.02,292.39L485.18,293.61L485.35,294.83L485.52,296.04L485.69,297.25L485.86,298.45L486.03,299.65L486.20,300.85L486.37,302.03L486.54,303.21L486.71,304.39L486.88,305.57L487.04,306.74L487.21,307.91L487.37,309.08L487.53,310.24L487.69,311.40L487.84,312.56L487.99,313.72L488.14,314.88L488.29,316.03L488.43,317.19L488.57,318.34L488.70,319.50L488.84,320.73L488.97,321.95L489.10,323.16L489.23,324.37L489.35,325.56L489.47,326.75L489.59,327.93L489.71,329.11L489.82,330.28L489.93,331.45L490.04,332.62L490.15,333.79L490.25,334.95L490.36,336.12L490.46,337.29L490.56,338.47L490.66,339.65L490.77,340.83L490.87,342.02L490.97,343.22L491.07,344.42L491.18,345.63L491.28,346.86L491.39,348.09L491.49,349.34L491.60,350.60L491.70,351.76L491.79,352.92L491.89,354.09L491.98,355.26L492.07,356.43L492.16,357.61L492.24,358.79L492.33,359.97L492.42,361.16L492.50,362.35L492.58,363.55L492.67,364.75L492.75,365.96L492.84,367.17L492.92,368.39L493.01,369.61L493.10,370.84L493.18,372.07L493.27,373.31L493.37,374.56L493.46,375.81L493.56,377.06L493.66,378.32L493.76,379.59L493.86,380.87L493.97,382.15L494.08,383.44L494.20,384.74L494.32,386.04L494.44,387.35L494.57,388.67L494.70,390.00L494.81,391.12L494.93,392.25L495.05,393.39L495.18,394.54L495.31,395.69L495.44,396.85L495.57,398.02L495.70,399.19L495.84,400.37L495.98,401.56L496.12,402.75L496.27,403.95L496.41,405.16L496.56,406.37L496.71,407.58L496.86,408.80L497.02,410.02L497.17,411.24L497.33,412.47L497.48,413.70L497.64,414.94L497.80,416.18L497.96,417.42L498.12,418.66L498.28,419.90L498.45,421.15L498.61,422.40L498.77,423.64L498.94,424.89L499.10,426.14L499.26,427.39L499.43,428.64L499.59,429.88L499.75,431.13L499.92,432.38L500.08,433.62L500.24,434.86L500.40,436.10L500.56,437.34L500.72,438.57L500.88,439.81L501.04,441.03L501.19,442.26L501.35,443.48L501.50,444.70L501.65,445.92L501.80,447.13L501.96,448.35L502.11,449.56L502.26,450.78L502.42,451.99L502.57,453.21L502.72,454.43L502.88,455.64L503.03,456.86L503.18,458.07L503.34,459.28L503.49,460.50L503.64,461.72L503.80,462.93L503.95,464.15L504.10,465.37L504.26,466.58L504.41,467.80L504.57,469.01L504.72,470.23L504.87,471.44L505.03,472.66L505.18,473.87L505.33,475.09L505.49,476.30L505.64,477.52L505.80,478.74L505.95,479.95L506.10,481.17L506.26,482.38L506.41,483.60L506.56,484.81L506.72,486.03L506.87,487.24L507.02,488.46L507.18,489.67L507.33,490.89L507.48,492.11L507.64,493.32L507.79,494.54L507.94,495.75L508.10,496.97L508.25,498.18L508.40,499.40L508.55,500.62L508.70,501.85L508.86,503.09L509.01,504.34L509.16,505.59L509.31,506.85L509.46,508.12L509.62,509.39L509.77,510.67L509.92,511.95L510.07,513.23L510.22,514.52L510.38,515.81L510.53,517.10L510.68,518.39L510.83,519.68L510.98,520.97L511.14,522.26L511.29,523.54L511.44,524.83L511.59,526.11L511.74,527.38L511.89,528.66L512.04,529.92L512.19,531.18L512.35,532.44L512.50,533.69L512.65,534.92L512.80,536.16L512.95,537.38L513.10,538.59L513.25,539.79L513.40,540.97L513.55,542.15L513.70,543.31L513.85,544.46L514.00,545.60L514.15,546.72L514.30,547.82L514.45,548.92L514.60,549.99L514.75,551.04L514.90,552.08L515.05,553.10L515.20,554.10L515.42,555.55L515.63,556.96L515.84,558.34L516.05,559.69L516.26,561.02L516.46,562.31L516.66,563.59L516.87,564.84L517.07,566.07L517.28,567.28L517.48,568.48L517.69,569.66L517.90,570.83L518.12,572.00L518.34,573.15L518.57,574.29L518.80,575.43L519.04,576.57L519.28,577.72L519.54,578.86L519.80,580.00L520.10,581.25L520.42,582.52L520.75,583.77L521.10,585.00L521.45,586.23L521.81,587.45L522.17,588.67L522.54,589.87L522.91,591.06L523.27,592.23L523.64,593.40L523.99,594.54L524.34,595.67L524.68,596.79L525.00,597.88L525.31,598.96L525.60,600.00L525.96,601.36L526.29,602.67L526.60,603.94L526.89,605.18L527.18,606.39L527.47,607.59L527.76,608.79L528.07,610.01L528.39,611.24L528.75,612.51L529.08,613.65L529.41,614.82L529.74,616.01L530.08,617.21L530.43,618.42L530.79,619.61L531.17,620.81L531.56,622.00L531.98,623.17L532.42,624.34L532.89,625.49L533.40,626.61L533.94,627.72L534.52,628.80L535.13,629.84L535.77,630.87L536.43,631.90L537.11,632.95L537.80,633.96L538.50,634.96L539.19,636.01L539.89,637.05L540.58,638.05L541.25,639.01L541.93,640.08L542.59,641.17L543.23,642.27L543.87,643.33L544.51,644.36L545.17,645.32L545.85,646.37L546.57,647.23L547.32,648.26L548.13,648.99L549.00,649.93L549.88,650.55L550.81,651.20L551.78,652.11L552.78,652.54L553.82,653.25L554.89,653.46L555.98,653.97L557.09,654.78L558.21,655.57L559.34,656.13L560.47,656.53L561.60,657.17L562.73,657.02L563.88,657.45L565.04,658.28L566.23,659.07L567.43,659.74L568.64,660.26L569.85,660.28L571.08,660.84L572.30,661.21L573.53,661.08L574.76,661.51L575.98,662.09L577.20,662.61L578.38,662.74L579.55,662.57L580.71,662.82L581.87,663.15L583.03,663.43L584.19,664.45L585.36,665.04L586.54,664.89L587.74,664.54L588.97,664.73L590.21,664.44L591.49,664.60L592.80,665.01L593.90,665.56L594.99,665.76L596.08,665.62L597.16,665.33L598.25,665.76L599.35,666.30L600.46,666.38L601.59,665.86L602.73,665.94L603.90,666.17L605.10,665.55L606.34,665.70L607.61,665.60L608.92,666.23L610.28,666.11L611.69,665.29L613.15,665.39L614.67,666.26L616.25,665.98L617.10,666.07L617.97,666.11L618.86,665.76L619.77,665.59L620.69,666.11L621.64,665.93L622.60,666.06L623.58,666.63L624.58,666.70L625.59,665.97L626.62,665.95L627.66,666.40L628.72,666.37L629.80,666.59L630.89,666.00L631.99,665.48L633.11,665.91L634.24,666.65L635.38,666.68L636.53,666.99L637.70,666.92L638.88,666.47L640.07,665.89L641.27,665.82L642.48,665.56L643.71,665.75L644.94,666.05L646.18,666.58L647.43,665.99L648.68,665.77L649.95,665.51L651.22,665.77L652.50,666.40L653.79,666.31L655.08,666.45L656.38,666.85L657.69,666.63L659.00,666.20L660.32,666.65L661.64,666.76L662.96,666.58L664.29,666.61L665.62,666.97L666.95,666.53L668.29,666.05L669.62,666.74L670.96,666.68L672.30,666.33L673.64,666.88L674.98,667.21L676.33,666.93L677.67,666.68L679.01,666.71L680.35,665.91L681.68,665.71L683.02,666.20L684.35,666.55L685.68,666.77L687.01,666.79L688.33,666.57L689.65,666.48L690.96,666.81L692.27,666.60L693.57,666.25L694.87,666.52L696.16,666.68L697.45,667.02L698.73,667.17L700.00,667.41L701.15,667.15L702.31,666.81L703.47,666.76L704.63,666.46L705.79,666.83L706.95,667.13L708.12,666.35L709.29,666.38L710.46,666.64L711.64,666.79L712.81,666.46L713.99,666.63L715.17,666.49L716.35,666.96L717.53,666.45L718.72,666.84L719.91,667.13L721.10,666.82L722.29,666.43L723.48,666.65L724.68,667.19L725.87,666.91L727.07,667.04L728.27,667.39L729.47,667.10L730.67,667.24L731.87,667.21L733.08,667.33L734.28,666.97L735.49,666.32L736.70,666.26L737.91,666.34L739.12,666.46L740.33,666.84L741.54,666.76L742.76,666.49L743.97,666.44L745.19,667.31L746.40,666.98L747.62,666.62L748.84,666.84L750.06,666.34L751.27,666.51L752.49,667.43L753.71,667.30L754.93,666.71L756.15,666.55L757.38,667.01L758.60,666.69L759.82,666.58L761.04,666.71L762.26,666.98L763.49,666.57L764.71,666.51L765.93,667.30L767.15,667.07L768.38,666.41L769.60,666.52L770.82,667.40L772.04,667.28L773.27,667.31L774.49,667.41L775.71,666.49L776.93,666.28L778.15,666.65L779.37,667.08L780.59,666.74L781.81,667.16L783.03,667.48L784.25,667.20L785.46,667.12L786.68,666.63L787.90,666.88L789.11,667.06L790.32,667.28L791.54,667.17L792.75,667.50L793.96,667.93L795.17,668.03L796.38,667.85L797.59,667.78L798.79,667.84L800.00,667.10L801.21,666.70L802.41,667.33L803.62,667.09L804.83,667.14L806.04,667.67L807.26,667.13L808.47,666.89L809.69,667.38L810.91,666.59L812.12,666.55L813.34,667.17L814.56,667.01L815.78,667.18L817.01,666.63L818.23,666.74L819.45,667.09L820.68,667.47L821.90,667.69L823.13,667.46L824.36,667.10L825.58,667.39L826.81,666.83L828.04,666.81L829.27,666.79L830.49,667.41L831.72,667.32L832.95,667.37L834.18,667.69L835.41,667.20L836.64,667.45L837.86,667.41L839.09,666.94L840.32,667.37L841.55,667.29L842.77,667.61L844.00,667.63L845.23,667.14L846.45,667.05L847.68,666.96L848.90,666.77L850.12,667.30L851.35,667.79L852.57,667.94L853.79,667.43L855.01,667.39L856.23,667.60L857.45,667.75L858.66,667.80L859.88,668.08L861.09,668.11L862.30,668.00L863.51,667.43L864.72,667.19L865.93,666.90L867.14,667.18L868.34,667.25L869.54,667.30L870.75,667.94L871.94,668.09L873.14,667.77L874.34,667.21L875.53,667.46L876.72,667.73L877.91,667.34L879.10,667.23L880.28,667.13L881.46,667.75L882.64,667.55L883.82,667.41L884.99,667.63L886.16,667.17L887.33,667.20L888.50,667.36L889.66,667.76L890.82,667.65L891.98,667.99L893.14,667.73L894.29,666.98L895.44,667.24L896.58,667.18L897.73,667.02L898.86,667.76L900.00,668.06L901.28,668.02L902.57,667.33L903.84,666.91L905.11,667.49L906.38,667.70L907.65,667.27L908.91,667.53L910.16,667.34L911.42,667.36L912.67,667.95L913.91,667.96L915.16,668.10L916.40,667.99L917.63,667.71L918.87,667.18L920.10,667.33L921.32,667.02L922.55,667.55L923.77,667.61L924.99,667.29L926.21,667.56L927.43,668.00L928.64,667.65L929.85,667.32L931.06,667.92L932.27,667.77L933.48,667.14L934.68,667.05L935.88,667.05L937.08,667.31L938.28,667.66L939.48,667.48L940.68,667.73L941.88,667.19L943.07,666.95L944.27,667.11L945.46,667.42L946.65,666.79L947.85,666.84L949.04,667.65L950.23,667.60L951.42,666.94L952.61,666.88L953.81,666.86L955.00,667.71L956.19,667.73L957.38,667.00L958.57,667.36L959.77,667.31L960.96,667.66L962.15,667.25L963.35,667.63L964.54,667.25L965.74,667.30L966.94,667.51L968.14,667.63L969.34,667.36L970.54,667.72L971.74,667.86L972.95,667.44L974.15,666.78L975.36,666.93L976.57,667.13L977.79,667.77L979.00,667.37" fill="none" stroke="#0000ff" stroke-width="5.6" stroke-linejoin="round" stroke-linecap="round"/>
<path d="M103.00,665.42L104.25,666.15L105.54,666.46L106.85,666.52L108.20,665.79L109.56,665.69L110.95,666.26L112.35,666.22L113.76,665.90L115.18,666.11L116.60,666.06L118.02,666.15L119.44,665.52L120.85,665.66L122.25,666.33L123.64,665.89L125.00,665.77L126.35,666.34L127.66,666.15L128.95,665.64L130.20,665.99L131.42,666.09L132.59,665.71L133.71,665.89L134.79,665.52L135.81,665.46L136.78,665.28L137.69,665.65L138.53,666.44L139.30,666.29L140.00,666.55L141.64,666.17L142.97,666.27L144.06,666.59L145.00,666.23L146.50,665.63L148.00,666.01L149.50,666.07L151.00,665.48L152.50,665.50L154.00,666.27L155.50,665.91L157.00,665.22L158.50,664.73L160.00,663.55L160.77,662.78L161.50,661.55L162.26,660.10L163.00,658.72L163.74,657.06L164.50,655.50L165.21,654.19L166.00,653.29L167.50,652.28L169.00,653.68L169.78,654.90L170.50,656.41L171.25,658.02L172.00,659.54L172.73,660.91L173.50,662.19L174.23,663.21L175.00,664.05L176.50,664.80L178.00,665.39L179.50,665.71L181.00,666.51L182.50,666.52L184.00,665.49L185.50,665.45L187.00,666.14L188.50,665.97L190.00,665.51L190.92,666.24L191.98,666.61L193.30,666.02L195.00,665.80L195.59,666.21L196.23,666.49L196.92,665.81L197.66,665.53L198.45,665.59L199.27,666.03L200.14,665.93L201.06,665.65L202.01,665.58L203.00,665.31L204.02,665.80L205.08,666.60L206.18,666.26L207.30,665.99L208.46,666.44L209.65,665.95L210.86,665.49L212.10,665.22L213.37,665.30L214.66,665.43L215.97,665.77L217.30,666.34L218.64,665.84L220.01,665.72L221.39,666.30L222.79,666.58L224.20,666.13L225.62,666.30L227.04,666.09L228.48,666.19L229.93,666.46L231.38,666.84L232.83,666.65L234.28,666.41L235.74,666.53L237.19,666.08L238.65,666.15L240.09,666.72L241.54,666.54L242.97,666.46L244.40,666.24L245.82,666.68L247.23,666.40L248.62,666.11L250.00,666.63L251.06,666.28L252.15,665.89L253.26,665.68L254.39,665.49L255.55,665.75L256.72,666.19L257.91,665.75L259.12,665.75L260.35,666.09L261.59,666.22L262.85,666.23L264.12,666.46L265.41,666.01L266.71,665.96L268.03,665.96L269.36,665.65L270.69,665.62L272.04,665.81L273.40,666.27L274.77,666.01L276.14,666.24L277.52,666.08L278.91,666.44L280.30,666.51L281.70,666.38L283.10,666.87L284.51,666.73L285.91,666.28L287.32,665.75L288.73,665.94L290.14,666.00L291.55,666.40L292.96,667.04L294.36,666.82L295.76,666.04L297.16,666.60L298.55,667.02L299.94,666.45L301.32,666.05L302.69,666.65L304.06,666.66L305.41,667.13L306.76,667.21L308.10,667.16L309.42,666.91L310.73,666.17L312.03,666.52L313.32,666.14L314.59,665.83L315.85,666.16L317.09,666.28L318.32,665.82L319.52,666.28L320.71,666.77L321.88,666.56L323.03,666.38L324.16,666.39L325.26,666.84L326.35,666.39L327.41,666.62L328.44,666.49L329.46,666.08L330.44,666.74L331.40,666.52L332.34,667.12L333.24,667.35L334.12,667.26L334.97,667.00L335.78,666.42L336.57,666.25L337.32,666.38L338.04,666.70L338.73,665.85L339.38,665.94L340.00,666.95L341.74,667.05L343.23,666.97L344.53,667.07L345.69,666.75L346.77,666.77L347.81,666.57L348.87,666.58L350.00,665.80L351.41,665.85L352.77,666.11L354.12,666.10L355.45,665.62L356.81,665.66L358.20,665.60L359.38,664.71L360.56,663.89L361.75,663.64L362.96,664.08L364.18,663.58L365.43,663.00L366.70,662.57L368.00,661.77L369.08,661.37L370.18,661.03L371.30,660.84L372.44,660.82L373.59,659.85L374.76,659.25L375.94,659.41L377.13,658.66L378.33,657.70L379.55,657.70L380.77,657.42L382.00,656.93L383.11,656.48L384.25,655.63L385.39,655.02L386.55,655.03L387.73,654.66L388.91,654.06L390.10,653.16L391.29,652.83L392.48,652.65L393.68,652.05L394.87,651.64L396.07,651.19L397.25,650.79L398.43,650.05L399.60,649.65L400.72,649.33L401.87,648.44L403.03,647.81L404.20,647.48L405.38,646.87L406.56,646.61L407.74,645.97L408.90,645.64L410.05,644.89L411.18,644.09L412.28,643.73L413.35,643.30L414.39,642.69L415.37,642.14L416.31,641.58L417.20,641.14L418.35,640.21L419.38,639.51L420.33,638.63L421.23,637.92L422.11,637.10L423.01,636.35L423.96,635.69L425.00,634.89L425.89,634.06L426.83,633.29L427.80,632.54L428.80,631.75L429.81,630.90L430.85,630.08L431.89,629.28L432.93,628.40L433.96,627.52L434.98,626.71L435.98,625.86L436.96,624.94L437.90,624.04L438.83,623.22L439.75,622.39L440.65,621.46L441.54,620.58L442.41,619.73L443.28,618.83L444.14,617.97L445.00,617.06L445.85,616.18L446.70,615.32L447.55,614.43L448.40,613.61L449.28,612.73L450.16,611.89L451.03,611.02L451.90,610.13L452.76,609.33L453.62,608.48L454.48,607.59L455.34,606.73L456.19,605.85L457.05,605.00L457.90,604.12L458.71,603.24L459.53,602.37L460.35,601.49L461.18,600.66L462.00,599.79L462.81,598.89L463.62,597.96L464.43,597.07L465.22,596.13L465.99,595.20L466.76,594.26L467.50,593.31L468.25,592.26L468.99,591.23L469.72,590.18L470.44,589.10L471.14,588.01L471.83,586.94L472.51,585.85L473.19,584.72L473.85,583.61L474.51,582.46L475.16,581.32L475.80,580.20L476.40,579.16L476.98,578.08L477.56,576.99L478.13,575.89L478.69,574.81L479.24,573.71L479.79,572.61L480.33,571.51L480.87,570.39L481.41,569.26L481.94,568.13L482.47,566.98L483.00,565.82L483.47,564.76L483.94,563.67L484.40,562.58L484.87,561.49L485.32,560.38L485.78,559.25L486.23,558.14L486.69,557.00L487.13,555.87L487.58,554.73L488.02,553.59L488.46,552.43L488.90,551.30L489.34,550.16L489.77,549.03L490.20,547.89L490.66,546.69L491.12,545.47L491.59,544.24L492.05,543.01L492.52,541.75L492.98,540.50L493.44,539.26L493.89,538.02L494.33,536.79L494.77,535.59L495.19,534.40L495.59,533.25L495.98,532.14L496.35,531.05L496.70,530.00L497.15,528.66L497.55,527.42L497.91,526.25L498.26,525.12L498.60,523.97L498.95,522.76L499.31,521.46L499.70,520.00L499.95,519.06L500.20,518.06L500.46,517.03L500.72,515.95L500.99,514.83L501.27,513.68L501.54,512.51L501.82,511.31L502.10,510.08L502.39,508.84L502.67,507.59L502.96,506.32L503.24,505.04L503.53,503.76L503.82,502.48L504.10,501.20L504.39,499.93L504.67,498.67L504.95,497.43L505.23,496.20L505.50,495.00L505.77,493.81L506.05,492.61L506.32,491.40L506.60,490.20L506.87,488.99L507.15,487.78L507.42,486.56L507.70,485.35L507.98,484.14L508.25,482.94L508.52,481.73L508.79,480.52L509.06,479.33L509.33,478.13L509.59,476.94L509.85,475.76L510.11,474.59L510.36,473.43L510.61,472.27L510.86,471.13L511.10,470.00L511.38,468.70L511.64,467.43L511.90,466.18L512.16,464.95L512.41,463.73L512.66,462.53L512.90,461.32L513.14,460.12L513.38,458.92L513.62,457.71L513.86,456.48L514.11,455.24L514.35,453.97L514.60,452.68L514.85,451.36L515.10,450.00L515.30,448.91L515.51,447.79L515.72,446.65L515.92,445.48L516.14,444.30L516.35,443.09L516.56,441.87L516.78,440.64L516.99,439.40L517.21,438.15L517.43,436.90L517.64,435.64L517.86,434.38L518.07,433.12L518.29,431.86L518.50,430.60L518.71,429.36L518.92,428.13L519.12,426.91L519.33,425.71L519.53,424.52L519.73,423.36L519.92,422.21L520.11,421.09L520.30,420.00L520.54,418.65L520.77,417.33L521.00,416.06L521.23,414.81L521.45,413.59L521.67,412.39L521.89,411.20L522.11,410.01L522.32,408.82L522.53,407.63L522.74,406.42L522.94,405.20L523.13,403.95L523.33,402.67L523.52,401.36L523.70,400.00L523.84,398.90L523.97,397.76L524.10,396.58L524.23,395.38L524.36,394.14L524.48,392.87L524.59,391.59L524.71,390.30L524.82,388.99L524.93,387.67L525.04,386.35L525.14,385.03L525.25,383.72L525.35,382.42L525.45,381.13L525.56,379.87L525.66,378.62L525.76,377.40L525.86,376.22L525.97,375.07L526.07,373.96L526.18,372.89L526.28,371.87L526.39,370.91L526.50,370.00L526.70,368.53L526.90,367.24L527.10,366.09L527.30,365.00L527.50,363.91L527.70,362.75L527.90,361.47L528.10,360.00L528.21,359.10L528.32,358.15L528.43,357.15L528.55,356.11L528.66,355.03L528.77,353.92L528.88,352.77L528.99,351.59L529.10,350.39L529.21,349.16L529.32,347.91L529.43,346.65L529.55,345.37L529.66,344.07L529.77,342.77L529.89,341.47L530.01,340.16L530.13,338.85L530.25,337.55L530.37,336.25L530.49,334.97L530.61,333.70L530.74,332.45L530.87,331.21L531.00,330.00L531.13,328.81L531.27,327.62L531.40,326.45L531.54,325.28L531.68,324.12L531.81,322.97L531.95,321.81L532.10,320.66L532.24,319.51L532.38,318.36L532.53,317.21L532.67,316.06L532.82,314.89L532.97,313.72L533.12,312.55L533.27,311.36L533.43,310.16L533.58,308.95L533.74,307.73L533.89,306.49L534.05,305.23L534.21,303.95L534.37,302.66L534.54,301.34L534.70,300.00L534.83,298.93L534.96,297.84L535.10,296.74L535.24,295.63L535.38,294.50L535.52,293.36L535.67,292.21L535.81,291.05L535.96,289.88L536.11,288.69L536.26,287.50L536.41,286.30L536.56,285.09L536.72,283.87L536.87,282.65L537.02,281.41L537.18,280.18L537.34,278.93L537.49,277.68L537.65,276.43L537.80,275.17L537.96,273.91L538.12,272.64L538.27,271.38L538.42,270.11L538.58,268.84L538.73,267.57L538.88,266.30L539.03,265.03L539.18,263.76L539.33,262.49L539.48,261.22L539.62,259.96L539.76,258.70L539.90,257.44L540.04,256.18L540.18,254.94L540.31,253.69L540.45,252.45L540.57,251.22L540.70,250.00L540.82,248.78L540.94,247.55L541.06,246.31L541.18,245.06L541.29,243.81L541.40,242.55L541.52,241.29L541.62,240.03L541.73,238.76L541.84,237.48L541.94,236.21L542.04,234.93L542.14,233.65L542.25,232.37L542.34,231.09L542.44,229.81L542.54,228.54L542.64,227.26L542.73,225.99L542.83,224.72L542.92,223.46L543.02,222.20L543.11,220.94L543.21,219.70L543.30,218.45L543.40,217.22L543.49,215.99L543.59,214.77L543.68,213.56L543.78,212.36L543.88,211.18L543.97,210.00L544.07,208.83L544.17,207.68L544.27,206.54L544.37,205.41L544.48,204.30L544.58,203.20L544.68,202.12L544.79,201.05L544.90,200.00L545.05,198.63L545.19,197.30L545.33,196.01L545.48,194.74L545.62,193.50L545.77,192.28L545.91,191.09L546.06,189.91L546.21,188.75L546.35,187.60L546.50,186.45L546.65,185.31L546.80,184.18L546.95,183.04L547.11,181.89L547.26,180.74L547.42,179.58L547.57,178.40L547.74,177.21L547.90,176.00L548.06,174.76L548.23,173.50L548.40,172.20L548.55,171.07L548.70,169.93L548.85,168.77L549.00,167.59L549.16,166.40L549.32,165.20L549.48,163.98L549.64,162.76L549.80,161.52L549.97,160.28L550.13,159.03L550.30,157.77L550.47,156.51L550.64,155.25L550.81,153.98L550.98,152.71L551.15,151.44L551.32,150.17L551.49,148.90L551.67,147.64L551.84,146.38L552.01,145.12L552.18,143.87L552.35,142.63L552.53,141.40L552.70,140.17L552.87,138.96L553.03,137.76L553.20,136.58L553.37,135.40L553.54,134.24L553.70,133.10L553.89,131.79L554.08,130.49L554.26,129.19L554.45,127.90L554.64,126.61L554.82,125.34L555.01,124.06L555.20,122.79L555.38,121.53L555.57,120.28L555.75,119.04L555.94,117.81L556.12,116.58L556.31,115.37L556.50,114.16L556.68,112.96L556.87,111.78L557.06,110.60L557.25,109.44L557.43,108.28L557.62,107.14L557.82,106.02L558.01,104.90L558.20,103.80L558.44,102.46L558.67,101.11L558.91,99.77L559.15,98.44L559.39,97.12L559.62,95.82L559.86,94.54L560.10,93.27L560.34,92.03L560.59,90.82L560.83,89.63L561.08,88.48L561.33,87.37L561.58,86.30L561.84,85.28L562.10,84.30L562.48,82.89L562.83,81.55L563.19,80.28L563.56,79.11L563.97,78.00L564.45,76.95L565.00,75.99L565.97,74.60L567.10,73.25L568.25,72.28L569.30,72.03L570.18,72.40L571.01,73.37L571.79,74.66L572.50,75.99L572.98,76.98L573.41,78.00L573.81,79.11L574.17,80.29L574.52,81.55L574.86,82.89L575.20,84.30L575.42,85.28L575.63,86.31L575.83,87.38L576.02,88.49L576.21,89.64L576.39,90.82L576.57,92.03L576.74,93.27L576.91,94.54L577.08,95.82L577.24,97.13L577.41,98.45L577.58,99.78L577.75,101.11L577.92,102.45L578.10,103.80L578.25,104.90L578.39,106.02L578.54,107.15L578.68,108.29L578.83,109.44L578.97,110.60L579.12,111.78L579.26,112.97L579.41,114.16L579.55,115.37L579.70,116.58L579.84,117.81L579.98,119.04L580.13,120.29L580.27,121.54L580.42,122.80L580.57,124.06L580.71,125.34L580.86,126.62L581.01,127.90L581.15,129.19L581.30,130.49L581.45,131.79L581.60,133.10L581.73,134.24L581.86,135.39L582.00,136.55L582.13,137.72L582.27,138.90L582.41,140.09L582.54,141.28L582.68,142.49L582.82,143.70L582.96,144.91L583.10,146.13L583.24,147.36L583.38,148.60L583.53,149.83L583.67,151.07L583.81,152.32L583.95,153.57L584.08,154.81L584.22,156.06L584.36,157.31L584.50,158.57L584.63,159.82L584.77,161.07L584.90,162.32L585.03,163.56L585.16,164.81L585.29,166.05L585.42,167.29L585.54,168.53L585.66,169.76L585.78,170.98L585.90,172.20L586.01,173.40L586.13,174.60L586.24,175.79L586.35,176.98L586.45,178.17L586.56,179.35L586.67,180.53L586.77,181.71L586.87,182.89L586.97,184.07L587.07,185.25L587.17,186.43L587.27,187.60L587.37,188.78L587.46,189.96L587.56,191.14L587.65,192.32L587.75,193.51L587.84,194.69L587.93,195.88L588.02,197.07L588.11,198.27L588.21,199.47L588.29,200.67L588.38,201.88L588.47,203.09L588.56,204.31L588.65,205.54L588.74,206.77L588.83,208.01L588.91,209.25L589.00,210.50L589.08,211.67L589.16,212.84L589.23,214.01L589.30,215.20L589.37,216.38L589.44,217.57L589.51,218.77L589.57,219.97L589.63,221.18L589.70,222.39L589.76,223.60L589.82,224.82L589.88,226.04L589.94,227.26L589.99,228.49L590.05,229.72L590.11,230.95L590.17,232.18L590.23,233.41L590.29,234.65L590.35,235.89L590.41,237.13L590.48,238.37L590.54,239.61L590.61,240.85L590.68,242.09L590.75,243.33L590.82,244.57L590.89,245.81L590.97,247.05L591.05,248.29L591.13,249.52L591.22,250.76L591.31,251.99L591.40,253.22L591.50,254.45L591.60,255.68L591.70,256.90L591.81,258.10L591.92,259.30L592.03,260.50L592.15,261.70L592.27,262.90L592.40,264.09L592.53,265.29L592.67,266.49L592.80,267.69L592.94,268.89L593.08,270.09L593.23,271.29L593.37,272.49L593.52,273.69L593.67,274.89L593.82,276.09L593.97,277.29L594.12,278.49L594.27,279.69L594.43,280.89L594.58,282.09L594.73,283.29L594.89,284.49L595.04,285.69L595.19,286.89L595.34,288.09L595.49,289.29L595.64,290.49L595.78,291.69L595.93,292.89L596.07,294.09L596.21,295.29L596.35,296.49L596.48,297.69L596.61,298.89L596.74,300.09L596.86,301.30L596.98,302.50L597.10,303.70L597.21,304.90L597.32,306.11L597.43,307.31L597.54,308.52L597.64,309.73L597.75,310.94L597.85,312.15L597.95,313.36L598.05,314.57L598.14,315.79L598.24,317.00L598.33,318.22L598.42,319.43L598.51,320.65L598.60,321.86L598.69,323.08L598.78,324.29L598.87,325.50L598.95,326.72L599.04,327.93L599.12,329.14L599.21,330.35L599.29,331.56L599.37,332.77L599.45,333.97L599.54,335.18L599.62,336.38L599.70,337.58L599.78,338.78L599.86,339.97L599.94,341.17L600.02,342.36L600.10,343.54L600.19,344.73L600.27,345.91L600.35,347.09L600.43,348.26L600.52,349.43L600.60,350.60L600.69,351.85L600.78,353.10L600.86,354.35L600.95,355.60L601.03,356.84L601.11,358.08L601.19,359.31L601.27,360.55L601.34,361.78L601.42,363.01L601.50,364.23L601.57,365.46L601.65,366.68L601.72,367.90L601.80,369.11L601.87,370.33L601.95,371.54L602.03,372.76L602.11,373.97L602.19,375.18L602.27,376.38L602.35,377.59L602.43,378.80L602.52,380.00L602.60,381.20L602.69,382.41L602.78,383.61L602.88,384.81L602.97,386.01L603.07,387.21L603.17,388.41L603.28,389.60L603.39,390.80L603.50,392.00L603.62,393.24L603.75,394.47L603.88,395.70L604.01,396.93L604.15,398.15L604.30,399.37L604.44,400.59L604.59,401.81L604.75,403.03L604.90,404.25L605.06,405.46L605.22,406.67L605.38,407.88L605.54,409.09L605.71,410.30L605.87,411.51L606.03,412.72L606.19,413.93L606.35,415.14L606.51,416.35L606.67,417.56L606.83,418.77L606.98,419.99L607.13,421.20L607.28,422.42L607.42,423.64L607.57,424.86L607.70,426.08L607.83,427.31L607.96,428.54L608.08,429.77L608.20,431.00L608.30,432.19L608.40,433.40L608.49,434.61L608.57,435.83L608.64,437.05L608.71,438.28L608.77,439.51L608.83,440.75L608.89,442.00L608.94,443.24L608.98,444.49L609.03,445.74L609.07,446.99L609.12,448.24L609.16,449.48L609.20,450.73L609.25,451.97L609.29,453.21L609.34,454.45L609.40,455.68L609.45,456.91L609.51,458.13L609.57,459.34L609.65,460.54L609.72,461.74L609.81,462.93L609.90,464.10L610.00,465.27L610.10,466.43L610.22,467.57L610.35,468.70L610.49,469.81L610.64,470.91L610.80,472.00L611.02,473.31L611.25,474.60L611.51,475.87L611.78,477.12L612.06,478.35L612.36,479.57L612.67,480.77L612.99,481.96L613.32,483.14L613.65,484.31L613.99,485.48L614.32,486.64L614.66,487.80L615.00,488.94L615.34,490.09L615.67,491.24L615.99,492.38L616.30,493.54L616.61,494.69L616.90,495.85L617.19,497.02L617.45,498.21L617.70,499.40L617.93,500.59L618.16,501.80L618.37,503.02L618.58,504.25L618.78,505.50L618.97,506.75L619.16,508.01L619.34,509.27L619.52,510.52L619.69,511.78L619.86,513.02L620.03,514.27L620.19,515.50L620.35,516.72L620.51,517.92L620.67,519.10L620.83,520.27L620.99,521.41L621.15,522.53L621.31,523.62L621.47,524.68L621.63,525.71L621.80,526.70L622.04,528.09L622.28,529.42L622.52,530.68L622.75,531.89L622.98,533.08L623.21,534.23L623.44,535.38L623.67,536.52L623.91,537.66L624.15,538.82L624.40,540.00L624.66,541.17L624.92,542.32L625.20,543.43L625.48,544.55L625.77,545.67L626.05,546.79L626.32,547.94L626.59,549.12L626.84,550.36L627.08,551.64L627.30,553.00L627.45,554.04L627.58,555.11L627.71,556.22L627.83,557.36L627.94,558.53L628.05,559.72L628.15,560.93L628.24,562.17L628.33,563.42L628.42,564.69L628.50,565.97L628.58,567.27L628.65,568.57L628.73,569.88L628.81,571.19L628.88,572.50L628.96,573.81L629.04,575.12L629.12,576.42L629.21,577.72L629.30,579.00L629.38,580.20L629.46,581.42L629.53,582.67L629.59,583.93L629.65,585.20L629.71,586.49L629.76,587.79L629.82,589.09L629.87,590.40L629.93,591.71L629.98,593.01L630.04,594.31L630.10,595.60L630.17,596.88L630.24,598.14L630.32,599.39L630.41,600.61L630.50,601.82L630.61,603.00L630.72,604.15L630.85,605.27L630.98,606.35L631.13,607.39L631.30,608.40L631.57,609.84L631.85,611.20L632.16,612.49L632.48,613.72L632.81,614.92L633.16,616.08L633.54,617.24L633.92,618.40L634.33,619.57L634.76,620.76L635.20,622.00L635.60,623.10L636.02,624.23L636.46,625.39L636.91,626.55L637.37,627.73L637.85,628.91L638.34,630.06L638.84,631.22L639.35,632.40L639.87,633.55L640.40,634.65L640.93,635.67L641.46,636.74L642.00,637.72L642.70,638.92L643.39,640.04L644.09,641.17L644.80,642.22L645.54,643.27L646.30,644.41L647.09,645.28L647.92,646.26L648.80,647.51L649.66,648.42L650.55,648.97L651.48,649.79L652.44,650.51L653.42,651.37L654.43,652.21L655.45,652.86L656.49,653.61L657.54,654.50L658.60,655.29L659.69,655.58L660.78,656.15L661.89,657.01L663.01,657.55L664.15,658.01L665.31,658.70L666.51,659.91L667.73,660.41L669.00,660.31L670.30,661.01L671.42,661.13L672.55,660.87L673.71,661.33L674.89,662.31L676.09,661.93L677.31,662.30L678.55,662.86L679.82,663.10L681.11,662.92L682.42,662.34L683.75,662.45L685.11,662.61L686.49,663.40L687.90,663.65L688.97,663.23L690.07,663.39L691.17,663.27L692.30,663.30L693.44,663.27L694.60,663.39L695.77,663.26L696.95,663.26L698.15,663.94L699.36,664.65L700.58,664.67L701.82,664.63L703.06,664.35L704.31,664.01L705.57,664.00L706.84,664.12L708.12,664.57L709.40,664.51L710.69,664.76L711.98,664.52L713.28,665.00L714.59,664.72L715.89,664.59L717.20,664.89L718.34,665.00L719.48,665.61L720.64,665.64L721.80,665.42L722.97,665.57L724.15,665.89L725.33,665.79L726.53,665.55L727.72,665.60L728.93,665.63L730.14,665.93L731.35,666.25L732.57,666.39L733.80,666.24L735.03,665.20L736.26,664.91L737.50,665.37L738.74,666.22L739.98,665.93L741.23,665.84L742.48,665.87L743.73,665.98L744.98,666.25L746.24,666.13L747.50,665.73L748.75,666.08L750.01,666.51L751.27,666.19L752.53,665.98L753.79,665.84L755.04,665.93L756.30,665.89L757.48,665.82L758.64,666.05L759.80,665.65L760.95,665.57L762.10,665.71L763.24,666.46L764.37,666.31L765.50,666.31L766.64,666.87L767.77,666.73L768.90,666.22L770.03,666.36L771.16,666.12L772.29,665.98L773.43,665.87L774.58,666.34L775.73,666.53L776.88,666.15L778.05,666.08L779.22,666.17L780.40,666.79L781.60,667.25L782.80,667.24L784.02,667.11L785.25,666.96L786.50,666.45L787.76,666.41L789.04,667.15L790.34,667.40L791.66,666.92L792.99,666.16L794.35,665.97L795.73,666.39L797.13,666.26L798.55,666.72L800.00,666.25L800.97,666.03L801.94,666.14L802.94,666.67L803.94,666.19L804.96,666.01L805.99,666.15L807.03,665.92L808.08,666.11L809.15,666.95L810.22,666.61L811.31,666.16L812.40,666.24L813.51,666.63L814.63,666.18L815.75,666.46L816.89,666.61L818.04,666.64L819.19,666.68L820.35,666.96L821.52,666.41L822.70,666.68L823.89,666.17L825.08,665.82L826.28,665.91L827.49,666.24L828.71,666.48L829.93,666.23L831.16,666.03L832.39,666.24L833.63,667.12L834.87,667.26L836.12,666.73L837.38,667.04L838.63,667.20L839.90,667.42L841.16,667.44L842.43,666.89L843.71,666.40L844.98,666.51L846.26,666.54L847.54,666.12L848.83,666.14L850.11,666.25L851.40,666.75L852.69,666.37L853.98,666.12L855.27,666.38L856.56,666.89L857.86,667.00L859.15,666.63L860.44,666.36L861.73,666.11L863.02,666.59L864.31,666.94L865.60,666.94L866.88,666.98L868.17,667.02L869.45,667.35L870.73,667.37L872.01,667.07L873.28,667.08L874.55,666.37L875.82,666.40L877.09,667.07L878.34,666.68L879.60,666.39L880.85,666.28L882.10,666.81L883.34,666.92L884.57,666.26L885.80,666.16L887.02,666.10L888.24,666.39L889.45,666.46L890.65,666.86L891.85,667.02L893.04,666.77L894.22,666.95L895.39,667.46L896.56,667.05L897.71,666.49L898.86,666.96L900.00,667.03L901.28,667.12L902.57,666.51L903.84,666.82L905.11,667.52L906.38,667.51L907.65,667.53L908.91,667.62L910.16,667.51L911.42,666.99L912.67,666.42L913.91,666.92L915.16,666.73L916.40,666.13L917.63,666.36L918.87,666.99L920.10,666.25L921.32,666.38L922.55,667.28L923.77,667.42L924.99,666.87L926.21,667.34L927.43,667.13L928.64,666.79L929.85,666.76L931.06,666.78L932.27,666.72L933.48,666.50L934.68,667.02L935.88,666.76L937.08,666.47L938.28,666.23L939.48,666.33L940.68,666.97L941.88,667.24L943.07,666.68L944.27,667.14L945.46,667.40L946.65,667.18L947.85,667.48L949.04,667.53L950.23,667.27L951.42,667.19L952.61,666.70L953.81,666.28L955.00,666.54L956.19,666.62L957.38,666.34L958.57,666.30L959.77,666.78L960.96,667.56L962.15,667.48L963.35,666.73L964.54,667.01L965.74,666.65L966.94,666.76L968.14,667.32L969.34,667.34L970.54,667.18L971.74,666.45L972.95,666.50L974.15,666.54L975.36,666.79L976.57,666.28L977.79,666.60L979.00,667.12" fill="none" stroke="#ff00ff" stroke-width="5.6" stroke-linejoin="round" stroke-linecap="round"/>
<path d="M103.00,665.49L104.24,663.95L105.50,664.41L106.79,664.28L108.09,664.96L109.40,664.08L110.72,665.11L112.04,665.43L113.37,665.77L114.70,665.66L116.01,664.19L117.32,664.13L118.62,664.69L119.89,664.02L121.15,663.65L122.38,664.02L123.58,665.36L124.76,665.79L125.89,665.23L126.99,664.43L128.04,665.23L129.04,664.64L130.00,663.90L131.51,664.14L132.92,663.97L134.26,663.54L135.52,664.18L136.72,664.23L137.86,664.78L138.95,665.49L140.00,664.96L141.44,664.56L142.79,665.47L144.00,665.72L145.00,665.05L146.50,665.00L148.00,663.41L149.50,662.99L151.00,663.60L152.50,664.79L154.00,664.10L155.50,662.52L156.28,661.21L157.00,660.19L157.53,659.21L158.03,657.83L158.50,656.54L158.90,655.41L159.28,654.28L159.64,653.05L160.00,651.69L160.31,650.44L160.62,649.17L160.91,647.87L161.21,646.59L161.50,645.24L161.75,644.05L162.00,642.88L162.25,641.70L162.50,640.50L162.75,639.32L163.00,638.13L163.29,636.78L163.58,635.43L163.87,634.13L164.18,632.85L164.50,631.61L164.95,629.92L165.42,628.36L166.00,627.13L167.50,626.10L168.29,626.74L169.00,628.09L169.43,629.14L169.81,630.42L170.15,631.83L170.50,633.23L170.81,634.50L171.12,635.86L171.41,637.26L171.70,638.66L172.00,640.01L172.30,641.41L172.60,642.88L172.89,644.29L173.19,645.70L173.50,647.09L173.79,648.35L174.08,649.60L174.38,650.78L174.68,651.93L175.00,653.07L175.36,654.35L175.72,655.59L176.10,656.68L176.50,657.73L177.22,659.47L178.00,661.04L179.50,662.78L181.00,663.54L182.50,664.83L184.00,665.44L185.50,665.71L187.00,665.17L188.50,663.75L190.00,664.31L190.92,664.11L191.98,664.06L193.30,664.10L195.00,663.46L195.60,663.95L196.25,665.15L196.96,664.68L197.72,665.30L198.53,664.96L199.40,664.00L200.31,663.95L201.26,664.64L202.26,664.80L203.30,663.89L204.38,663.10L205.50,663.64L206.65,665.11L207.84,664.88L209.06,663.97L210.30,664.91L211.58,664.70L212.88,664.39L214.20,664.88L215.54,663.60L216.90,663.16L218.28,663.96L219.67,664.85L221.08,664.68L222.50,664.71L223.92,665.21L225.36,664.69L226.79,664.61L228.23,663.76L229.67,664.42L231.11,663.99L232.55,664.75L233.98,665.37L235.41,665.05L236.82,664.73L238.22,664.76L239.61,664.90L240.99,664.12L242.34,663.78L243.68,664.36L245.00,664.22L246.29,663.61L247.55,664.17L248.79,664.11L250.00,663.78L251.25,664.80L252.51,665.03L253.77,664.51L255.03,665.41L256.29,665.82L257.56,665.02L258.83,664.14L260.11,663.55L261.38,663.25L262.65,663.98L263.93,664.97L265.20,664.08L266.48,665.09L267.75,665.29L269.02,664.82L270.29,663.80L271.56,664.16L272.82,663.94L274.08,664.72L275.34,665.26L276.59,665.05L277.84,664.84L279.08,664.98L280.31,663.76L281.54,663.64L282.77,664.53L283.98,663.55L285.19,663.74L286.39,664.33L287.58,664.95L288.77,664.32L289.94,664.33L291.10,664.30L292.26,664.19L293.40,664.15L294.53,664.22L295.65,664.37L296.76,664.09L297.85,664.31L298.93,665.41L300.00,665.35L301.39,664.31L302.76,664.62L304.11,663.33L305.45,663.73L306.78,664.63L308.09,663.81L309.39,664.58L310.68,665.35L311.95,664.63L313.21,663.70L314.45,662.95L315.69,663.54L316.91,664.09L318.12,664.49L319.31,664.15L320.50,664.45L321.67,664.03L322.83,664.31L323.99,664.30L325.13,663.66L326.26,664.55L327.38,664.04L328.50,664.08L329.60,664.86L331.02,664.29L332.44,663.67L333.85,662.97L335.26,663.16L336.66,664.16L338.04,664.11L339.40,664.29L340.72,664.47L342.01,664.20L343.26,663.79L344.46,664.38L345.61,663.64L346.71,663.19L347.74,664.43L348.70,664.35L350.22,663.08L351.57,663.84L352.79,663.44L353.92,662.36L355.00,662.44L356.11,661.95L357.08,660.44L358.02,659.63L359.00,658.40L360.04,657.58L361.10,657.79L362.18,657.33L363.30,656.28L364.44,655.57L365.62,654.46L366.81,653.94L368.00,653.95L369.17,653.86L370.34,653.17L371.51,652.34L372.70,651.95L373.89,651.55L375.10,651.90L376.31,651.91L377.50,651.21L379.03,650.03L380.55,649.88L382.00,650.01L383.06,648.94L384.09,648.11L385.07,646.88L386.00,646.05L387.04,645.36L388.00,644.62L389.00,643.48L389.87,642.71L390.77,641.69L391.68,641.15L392.60,640.32L393.55,639.13L394.51,638.13L395.49,637.27L396.50,636.40L397.45,635.39L398.42,634.55L399.41,633.89L400.44,632.91L401.50,631.63L402.35,630.86L403.26,630.13L404.20,629.31L405.15,628.31L406.10,627.36L407.02,626.49L407.89,625.57L408.70,624.59L409.46,623.56L410.15,622.50L410.79,621.38L411.41,620.38L412.05,619.29L412.74,618.24L413.50,617.26L414.30,616.39L415.16,615.54L416.06,614.64L416.99,613.69L417.93,612.84L418.85,612.10L419.75,611.25L420.60,610.16L421.40,609.16L422.17,608.38L422.92,607.47L423.66,606.46L424.39,605.41L425.12,604.33L425.86,603.31L426.60,602.46L427.35,601.42L428.10,600.37L428.86,599.45L429.61,598.42L430.36,597.50L431.11,596.61L431.86,595.66L432.60,594.57L433.35,593.50L434.10,592.55L434.85,591.61L435.59,590.47L436.33,589.42L437.06,588.46L437.78,587.51L438.50,586.42L439.13,585.36L439.75,584.19L440.37,583.13L440.98,582.03L441.59,580.98L442.19,579.91L442.78,578.77L443.36,577.68L443.94,576.60L444.50,575.50L445.13,574.27L445.73,573.07L446.32,571.96L446.89,570.84L447.47,569.68L448.06,568.49L448.66,567.28L449.30,566.04L449.88,564.92L450.47,563.83L451.07,562.82L451.68,561.72L452.31,560.73L452.94,559.63L453.57,558.46L454.21,557.39L454.86,556.25L455.50,555.04L456.04,553.95L456.60,552.92L457.18,551.92L457.76,550.94L458.35,549.83L458.95,548.76L459.54,547.72L460.12,546.60L460.70,545.52L461.26,544.41L461.81,543.30L462.33,542.24L462.83,541.13L463.30,540.03L463.76,538.89L464.20,537.72L464.62,536.54L465.03,535.42L465.41,534.25L465.79,533.04L466.15,531.87L466.49,530.70L466.83,529.54L467.16,528.41L467.48,527.26L467.79,526.11L468.10,525.00L468.41,523.77L468.69,522.52L468.95,521.28L469.18,520.03L469.41,518.80L469.64,517.58L469.88,516.38L470.14,515.19L470.42,514.06L470.74,512.98L471.10,511.98L471.69,510.72L472.34,509.53L473.04,508.45L473.76,507.41L474.48,506.27L475.20,505.08L475.73,504.05L476.27,502.96L476.82,501.81L477.37,500.70L477.92,499.61L478.48,498.45L479.02,497.33L479.56,496.23L480.09,495.12L480.60,494.04L481.16,492.83L481.70,491.68L482.24,490.65L482.76,489.64L483.28,488.50L483.79,487.35L484.30,486.21L484.80,485.02L485.19,483.95L485.58,482.86L485.96,481.74L486.35,480.58L486.73,479.43L487.10,478.23L487.48,477.01L487.84,475.79L488.21,474.56L488.56,473.40L488.92,472.24L489.26,471.10L489.60,469.99L490.01,468.73L490.41,467.46L490.81,466.17L491.19,464.93L491.57,463.73L491.94,462.54L492.30,461.34L492.65,460.18L493.00,459.03L493.38,457.69L493.75,456.38L494.10,455.13L494.44,453.86L494.78,452.56L495.13,451.29L495.50,449.99L495.85,448.76L496.21,447.53L496.57,446.30L496.94,445.04L497.31,443.76L497.68,442.48L498.04,441.23L498.40,439.99L498.75,438.75L499.07,437.50L499.40,436.24L499.72,434.98L500.05,433.73L500.40,432.50L500.78,431.23L501.20,429.99L501.61,428.89L502.04,427.79L502.49,426.65L502.96,425.53L503.45,424.38L503.95,423.27L504.46,422.22L504.98,421.08L505.50,420.00L506.05,418.83L506.63,417.76L507.23,416.75L507.84,415.75L508.45,414.66L509.06,413.47L509.66,412.32L510.24,411.24L510.80,410.05L511.24,409.00L511.68,407.87L512.11,406.78L512.53,405.67L512.94,404.53L513.35,403.35L513.75,402.16L514.14,400.96L514.53,399.73L514.91,398.57L515.28,397.37L515.64,396.19L516.00,394.99L516.37,393.75L516.74,392.50L517.10,391.22L517.44,389.92L517.79,388.62L518.12,387.31L518.44,386.03L518.75,384.78L519.06,383.56L519.35,382.34L519.63,381.15L519.90,380.01L520.20,378.66L520.47,377.36L520.72,376.11L520.96,374.88L521.20,373.67L521.44,372.46L521.71,371.24L522.00,370.01L522.32,368.75L522.66,367.54L523.02,366.39L523.39,365.23L523.76,364.00L524.14,362.75L524.52,361.42L524.90,359.98L525.15,358.99L525.40,357.95L525.65,356.85L525.91,355.71L526.16,354.53L526.42,353.33L526.68,352.12L526.94,350.86L527.20,349.61L527.46,348.36L527.73,347.11L528.00,345.88L528.27,344.66L528.55,343.43L528.83,342.25L529.11,341.11L529.40,339.99L529.73,338.79L530.07,337.60L530.42,336.45L530.76,335.31L531.12,334.21L531.47,333.10L531.83,331.97L532.19,330.84L532.55,329.73L532.91,328.59L533.28,327.44L533.64,326.23L534.00,324.98L534.31,323.88L534.62,322.76L534.92,321.61L535.23,320.45L535.54,319.28L535.85,318.09L536.16,316.87L536.47,315.63L536.78,314.41L537.09,313.17L537.41,311.94L537.72,310.72L538.05,309.51L538.37,308.31L538.70,307.12L539.03,305.94L539.36,304.79L539.70,303.68L540.09,302.43L540.50,301.16L540.91,299.89L541.32,298.61L541.74,297.36L542.17,296.13L542.59,294.90L543.02,293.68L543.44,292.53L543.86,291.41L544.28,290.32L544.69,289.22L545.10,288.23L545.50,287.34L546.12,286.08L546.73,284.99L547.33,283.96L547.92,282.85L548.51,281.66L549.10,280.28L549.40,279.46L549.71,278.55L550.01,277.55L550.31,276.52L550.60,275.46L550.90,274.32L551.19,273.16L551.49,271.98L551.78,270.76L552.06,269.50L552.35,268.24L552.64,266.96L552.92,265.67L553.21,264.37L553.49,263.08L553.78,261.82L554.06,260.55L554.34,259.31L554.62,258.09L554.90,256.91L555.18,255.74L555.46,254.54L555.74,253.33L556.02,252.14L556.29,250.93L556.57,249.72L556.85,248.53L557.12,247.32L557.39,246.09L557.67,244.90L557.94,243.69L558.21,242.50L558.48,241.32L558.74,240.13L559.01,238.96L559.27,237.81L559.53,236.68L559.79,235.58L560.05,234.47L560.30,233.39L560.60,232.12L560.88,230.83L561.16,229.55L561.43,228.30L561.70,227.04L561.96,225.79L562.23,224.54L562.49,223.34L562.77,222.20L563.05,221.07L563.34,219.98L563.65,218.95L563.96,217.96L564.30,217.00L564.87,215.67L565.49,214.42L566.12,213.30L566.76,212.12L567.39,211.03L568.00,210.00L568.57,208.96L569.13,207.88L569.68,206.79L570.23,205.81L570.77,204.70L571.30,203.46L571.71,202.38L572.12,201.24L572.52,200.10L572.92,198.90L573.32,197.69L573.71,196.48L574.10,195.27L574.47,194.05L574.84,192.87L575.20,191.69L575.58,190.43L575.91,189.23L576.23,188.02L576.54,186.80L576.87,185.60L577.23,184.41L577.63,183.19L578.10,181.99L578.58,180.95L579.12,179.91L579.70,178.83L580.31,177.69L580.95,176.65L581.59,175.60L582.23,174.48L582.85,173.36L583.45,172.28L584.00,171.19L584.50,170.13L584.99,169.04L585.47,167.87L585.93,166.74L586.39,165.58L586.83,164.41L587.27,163.27L587.69,162.11L588.10,160.94L588.51,159.72L588.90,158.53L589.25,157.38L589.59,156.19L589.91,154.99L590.23,153.75L590.54,152.51L590.83,151.29L591.12,150.06L591.41,148.82L591.69,147.58L591.97,146.37L592.25,145.20L592.52,144.05L592.80,142.91L593.10,141.66L593.38,140.41L593.65,139.19L593.92,138.01L594.18,136.83L594.45,135.65L594.73,134.51L595.03,133.39L595.35,132.27L595.70,131.20L596.11,130.02L596.54,128.91L596.98,127.79L597.44,126.65L597.93,125.58L598.45,124.52L599.00,123.44L599.60,122.41L600.25,121.29L600.97,120.13L601.74,119.07L602.54,118.08L603.35,116.98L604.16,115.87L604.95,114.73L605.71,113.63L606.40,112.54L607.01,111.49L607.57,110.37L608.10,109.29L608.61,108.28L609.12,107.18L609.63,106.02L610.15,104.99L610.71,103.91L611.30,102.90L611.97,101.81L612.67,100.68L613.39,99.66L614.13,98.68L614.88,97.73L615.64,96.77L616.42,95.82L617.20,94.95L618.14,93.99L619.10,93.35L620.09,92.59L621.07,91.71L622.05,91.01L623.00,90.20L623.87,89.29L624.74,88.32L625.59,87.43L626.44,86.52L627.27,85.60L628.09,84.53L628.90,83.37L629.58,82.26L630.24,81.12L630.89,79.91L631.52,78.71L632.16,77.53L632.79,76.40L633.44,75.38L634.11,74.47L634.80,73.73L636.19,72.51L637.62,71.64L639.10,71.47L640.15,71.78L641.24,72.27L642.35,72.87L643.44,73.58L644.50,74.61L645.47,75.30L646.45,76.22L647.41,77.33L648.33,78.29L649.20,79.23L650.00,79.90L651.37,81.04L652.60,82.18L653.33,83.43L653.99,84.79L654.68,86.15L655.50,87.53L656.23,88.45L657.04,89.16L657.91,89.91L658.79,90.92L659.67,91.95L660.50,93.05L661.04,93.88L661.59,94.77L662.15,95.71L662.69,96.81L663.24,97.93L663.78,99.06L664.31,100.25L664.82,101.41L665.32,102.65L665.80,103.85L666.26,104.99L666.69,106.15L667.10,107.29L667.51,108.45L667.89,109.62L668.24,110.78L668.57,111.89L668.87,113.00L669.16,114.13L669.44,115.29L669.71,116.50L669.97,117.74L670.24,119.03L670.50,120.40L670.68,121.41L670.86,122.45L671.03,123.53L671.20,124.64L671.36,125.78L671.52,126.94L671.67,128.13L671.82,129.34L671.96,130.56L672.10,131.80L672.24,133.05L672.38,134.31L672.51,135.58L672.65,136.85L672.78,138.11L672.91,139.37L673.04,140.63L673.17,141.88L673.30,143.11L673.43,144.32L673.57,145.52L673.70,146.70L673.85,147.97L673.99,149.24L674.13,150.48L674.27,151.73L674.41,152.96L674.55,154.19L674.68,155.42L674.81,156.64L674.95,157.86L675.08,159.09L675.21,160.32L675.35,161.55L675.48,162.78L675.61,164.02L675.75,165.28L675.88,166.54L676.02,167.81L676.16,169.10L676.30,170.40L676.42,171.55L676.55,172.71L676.68,173.89L676.80,175.08L676.93,176.28L677.06,177.49L677.19,178.71L677.32,179.92L677.45,181.16L677.58,182.39L677.71,183.61L677.84,184.85L677.97,186.08L678.11,187.32L678.24,188.55L678.37,189.77L678.50,190.99L678.63,192.21L678.76,193.42L678.89,194.62L679.02,195.81L679.15,196.99L679.27,198.15L679.40,199.30L679.54,200.60L679.69,201.88L679.83,203.15L679.98,204.42L680.12,205.66L680.27,206.91L680.41,208.14L680.55,209.37L680.70,210.59L680.84,211.81L680.98,213.03L681.12,214.26L681.26,215.48L681.40,216.72L681.54,217.95L681.68,219.20L681.82,220.45L681.96,221.72L682.10,223.00L682.23,224.18L682.35,225.33L682.47,226.48L682.60,227.62L682.72,228.75L682.84,229.87L682.95,230.99L683.07,232.12L683.19,233.26L683.31,234.40L683.43,235.55L683.55,236.73L683.67,237.91L683.79,239.12L683.91,240.36L684.03,241.62L684.15,242.92L684.28,244.26L684.41,245.63L684.54,247.04L684.67,248.50L684.80,250.00L684.88,250.92L684.96,251.86L685.04,252.82L685.12,253.80L685.20,254.80L685.29,255.82L685.37,256.85L685.45,257.89L685.53,258.96L685.62,260.03L685.70,261.13L685.78,262.24L685.87,263.36L685.95,264.49L686.04,265.64L686.12,266.80L686.21,267.97L686.29,269.16L686.38,270.35L686.47,271.56L686.55,272.77L686.64,273.99L686.73,275.23L686.82,276.47L686.91,277.72L686.99,278.98L687.08,280.24L687.17,281.51L687.26,282.79L687.35,284.08L687.45,285.36L687.54,286.66L687.63,287.95L687.72,289.25L687.81,290.56L687.91,291.87L688.00,293.18L688.09,294.49L688.19,295.80L688.28,297.11L688.38,298.42L688.48,299.73L688.57,301.05L688.67,302.36L688.77,303.67L688.87,304.98L688.96,306.28L689.06,307.58L689.16,308.88L689.26,310.18L689.36,311.46L689.46,312.75L689.57,314.03L689.67,315.30L689.77,316.57L689.87,317.83L689.98,319.08L690.08,320.32L690.19,321.56L690.29,322.78L690.40,324.00L690.51,325.22L690.62,326.43L690.72,327.64L690.83,328.86L690.94,330.07L691.06,331.28L691.17,332.49L691.28,333.71L691.40,334.92L691.51,336.14L691.63,337.35L691.74,338.56L691.86,339.77L691.98,340.99L692.09,342.20L692.21,343.42L692.33,344.63L692.45,345.84L692.57,347.06L692.69,348.27L692.81,349.48L692.94,350.70L693.06,351.91L693.18,353.12L693.30,354.33L693.43,355.55L693.55,356.76L693.68,357.97L693.80,359.18L693.93,360.40L694.05,361.61L694.18,362.82L694.30,364.04L694.43,365.25L694.55,366.46L694.68,367.68L694.80,368.89L694.93,370.10L695.06,371.31L695.18,372.53L695.31,373.74L695.44,374.95L695.56,376.16L695.69,377.37L695.81,378.59L695.94,379.81L696.07,381.02L696.19,382.23L696.32,383.44L696.44,384.66L696.57,385.87L696.69,387.08L696.82,388.30L696.94,389.51L697.06,390.72L697.19,391.94L697.31,393.15L697.43,394.36L697.56,395.57L697.68,396.79L697.80,398.00L697.92,399.22L698.04,400.44L698.16,401.67L698.28,402.91L698.40,404.16L698.52,405.41L698.64,406.66L698.76,407.92L698.88,409.19L699.00,410.46L699.12,411.74L699.24,413.02L699.36,414.30L699.48,415.59L699.60,416.87L699.72,418.16L699.84,419.45L699.95,420.74L700.07,422.04L700.19,423.34L700.31,424.63L700.43,425.92L700.55,427.22L700.67,428.51L700.79,429.80L700.90,431.09L701.02,432.37L701.14,433.66L701.26,434.94L701.38,436.22L701.50,437.49L701.62,438.76L701.74,440.03L701.86,441.29L701.98,442.54L702.10,443.79L702.22,445.04L702.34,446.27L702.46,447.50L702.58,448.72L702.70,449.94L702.82,451.15L702.95,452.34L703.07,453.53L703.19,454.71L703.31,455.88L703.44,457.04L703.56,458.18L703.68,459.32L703.81,460.46L703.93,461.57L704.06,462.68L704.18,463.77L704.31,464.85L704.43,465.91L704.56,466.96L704.69,468.00L704.81,469.02L704.94,470.03L705.07,471.02L705.20,472.00L705.40,473.45L705.60,474.87L705.80,476.25L706.00,477.60L706.21,478.91L706.42,480.21L706.63,481.47L706.84,482.71L707.05,483.94L707.26,485.16L707.47,486.35L707.69,487.52L707.90,488.69L708.11,489.85L708.32,490.99L708.53,492.13L708.74,493.28L708.95,494.42L709.15,495.55L709.36,496.70L709.56,497.85L709.76,499.00L709.95,500.17L710.14,501.36L710.33,502.56L710.52,503.76L710.70,504.99L710.87,506.19L711.04,507.40L711.20,508.60L711.37,509.82L711.53,511.04L711.68,512.26L711.84,513.50L711.99,514.73L712.15,515.97L712.30,517.22L712.44,518.46L712.59,519.70L712.74,520.94L712.88,522.18L713.03,523.42L713.17,524.65L713.31,525.87L713.45,527.10L713.59,528.32L713.73,529.53L713.87,530.74L714.01,531.93L714.15,533.12L714.29,534.30L714.43,535.46L714.57,536.62L714.72,537.76L714.86,538.89L715.00,540.00L715.17,541.28L715.33,542.54L715.50,543.79L715.66,545.02L715.83,546.24L715.99,547.45L716.15,548.64L716.32,549.83L716.48,551.01L716.64,552.18L716.80,553.35L716.96,554.50L717.12,555.66L717.28,556.83L717.44,557.99L717.60,559.14L717.76,560.30L717.92,561.46L718.08,562.64L718.24,563.82L718.40,565.00L718.56,566.19L718.71,567.39L718.85,568.59L718.99,569.79L719.13,570.99L719.26,572.19L719.40,573.40L719.53,574.61L719.66,575.81L719.80,577.01L719.94,578.22L720.08,579.42L720.23,580.62L720.38,581.81L720.54,582.99L720.71,584.18L720.89,585.36L721.07,586.53L721.27,587.69L721.48,588.84L721.70,589.99L721.96,591.26L722.23,592.52L722.52,593.77L722.82,595.03L723.13,596.29L723.45,597.54L723.78,598.77L724.11,599.99L724.45,601.21L724.80,602.43L725.15,603.66L725.50,604.88L725.85,606.09L726.21,607.29L726.56,608.45L726.91,609.65L727.26,610.86L727.60,612.01L727.97,613.28L728.33,614.58L728.68,615.85L729.03,617.12L729.37,618.39L729.72,619.63L730.07,620.87L730.43,622.10L730.80,623.34L731.18,624.53L731.58,625.74L732.00,626.94L732.44,628.11L732.91,629.21L733.40,630.28L733.95,631.39L734.52,632.50L735.12,633.59L735.74,634.78L736.37,635.77L737.03,636.91L737.69,637.82L738.37,638.75L739.05,640.03L739.74,641.04L740.43,641.76L741.12,642.85L741.80,643.62L742.61,644.75L743.43,645.78L744.27,646.68L745.11,647.86L745.96,649.30L746.81,650.24L747.66,650.99L748.51,651.75L749.36,652.96L750.20,653.81L751.33,655.02L752.46,656.33L753.59,657.65L754.72,658.30L755.82,658.62L756.90,658.12L758.19,657.90L759.45,657.83L760.68,656.69L761.90,657.09L762.90,656.99L763.83,657.20L764.77,658.57L765.80,659.26L767.00,659.90L767.93,660.19L768.94,661.11L770.01,662.15L771.13,662.46L772.31,663.36L773.52,663.68L774.77,663.34L776.04,664.03L777.32,664.40L778.60,665.38L779.75,665.02L780.89,663.91L782.03,664.22L783.17,663.82L784.34,664.29L785.53,663.39L786.75,663.60L788.02,664.90L789.34,664.84L790.72,664.61L792.17,663.29L793.69,663.38L795.30,663.24L796.18,664.21L797.09,663.81L798.04,663.38L799.01,663.36L800.01,663.11L801.03,664.03L802.09,664.75L803.16,664.91L804.26,664.38L805.38,664.09L806.53,665.18L807.69,665.46L808.87,665.10L810.07,664.82L811.29,663.94L812.52,664.58L813.77,664.24L815.03,663.14L816.30,663.67L817.58,664.69L818.88,665.57L820.18,665.74L821.49,665.84L822.81,665.30L824.13,664.17L825.45,664.84L826.78,664.67L828.12,664.76L829.45,664.46L830.78,663.98L832.11,663.86L833.44,665.20L834.77,665.23L836.09,664.19L837.40,664.28L838.71,664.91L840.01,664.15L841.31,663.39L842.59,663.16L843.86,663.56L845.11,664.65L846.36,664.94L847.59,665.07L848.80,664.71L850.00,664.79L851.24,664.56L852.48,665.06L853.70,665.04L854.92,665.15L856.13,665.22L857.33,664.67L858.53,665.29L859.72,664.52L860.91,663.76L862.10,664.60L863.28,663.78L864.45,664.77L865.63,665.25L866.80,664.23L867.97,663.00L869.15,663.02L870.32,664.26L871.49,665.01L872.66,665.66L873.84,665.56L875.02,664.84L876.20,665.09L877.38,664.47L878.57,664.05L879.77,663.98L880.97,663.56L882.17,664.15L883.38,664.40L884.60,663.40L885.83,663.26L887.06,664.63L888.31,665.82L889.56,666.03L890.82,665.89L892.10,665.33L893.38,665.32L894.68,665.23L895.99,664.80L897.31,664.52L898.65,664.54L900.00,664.78L901.08,664.40L902.17,665.27L903.27,665.64L904.37,665.14L905.49,664.38L906.61,664.35L907.74,664.09L908.87,663.99L910.01,663.14L911.16,662.88L912.32,663.36L913.48,663.99L914.65,665.26L915.82,664.68L917.00,664.69L918.19,665.34L919.38,664.58L920.57,663.47L921.78,663.29L922.98,663.26L924.19,663.56L925.41,663.53L926.62,663.62L927.85,664.02L929.07,665.16L930.30,665.50L931.54,665.06L932.78,663.88L934.02,663.46L935.26,663.95L936.50,664.19L937.75,665.42L939.00,665.24L940.25,664.86L941.51,665.11L942.76,663.69L944.02,663.24L945.28,664.58L946.54,665.45L947.80,664.48L949.06,664.16L950.32,663.81L951.58,664.22L952.84,664.32L954.10,663.19L955.36,663.48L956.62,665.44L957.88,665.56L959.14,664.58L960.40,665.14L961.66,664.48L962.91,663.29L964.17,663.08L965.42,663.58L966.67,664.23L967.91,663.81L969.16,664.43L970.40,664.72L971.64,664.41L972.87,663.74L974.11,663.55L975.34,663.98L976.56,664.38L977.78,664.54L979.00,665.56" fill="none" stroke="#000000" stroke-width="5.6" stroke-linejoin="round" stroke-linecap="round"/>
<rect x="740.8" y="12" width="224.9" height="187.8" fill="none" stroke="#000" stroke-width="1.8"/>
<line x1="761.6" y1="33.50" x2="827.3" y2="33.50" stroke="#ff0000" stroke-width="5.6" stroke-linecap="round"/>
<text x="835.6" y="43.60" class="b" font-size="29">h= 2nm</text>
<line x1="761.6" y1="70.57" x2="827.3" y2="70.57" stroke="#00ff00" stroke-width="5.6" stroke-linecap="round"/>
<text x="835.6" y="80.67" class="b" font-size="29">h=2.5nm</text>
<line x1="761.6" y1="107.64" x2="827.3" y2="107.64" stroke="#0000ff" stroke-width="5.6" stroke-linecap="round"/>
<text x="835.6" y="117.74" class="b" font-size="29">h=3nm</text>
<line x1="761.6" y1="144.71" x2="827.3" y2="144.71" stroke="#ff00ff" stroke-width="5.6" stroke-linecap="round"/>
<text x="835.6" y="154.81" class="b" font-size="29">h=4nm</text>
<line x1="761.6" y1="181.78" x2="827.3" y2="181.78" stroke="#000000" stroke-width="5.6" stroke-linecap="round"/>
<text x="835.6" y="191.88" class="b" font-size="29">h=5nm</text>
<path d="M156.19,727.90 V721.10 M211.68,727.90 V714.90 M267.16,727.90 V721.10 M322.65,727.90 V714.90 M378.14,727.90 V721.10 M433.62,727.90 V714.90 M489.11,727.90 V721.10 M544.60,727.90 V714.90 M600.09,727.90 V721.10 M655.58,727.90 V714.90 M711.06,727.90 V721.10 M766.55,727.90 V714.90 M822.04,727.90 V721.10 M877.53,727.90 V714.90 M933.01,727.90 V721.10 M100.60,668.65 H114.20 M100.60,608.95 H107.40 M100.60,549.25 H114.20 M100.60,489.55 H107.40 M100.60,429.85 H114.20 M100.60,370.15 H107.40 M100.60,310.45 H114.20 M100.60,250.75 H107.40 M100.60,191.05 H114.20 M100.60,131.35 H107.40 M100.60,71.65 H114.20" fill="none" stroke="#000" stroke-width="5.6" stroke-linecap="round"/>
<rect x="100.60" y="12.00" width="888.10" height="715.90" fill="none" stroke="#000" stroke-width="5.6" stroke-linejoin="round"/>
<text x="0" y="0" class="b" font-size="29" text-anchor="middle" transform="translate(100.70,764.3) scale(1,1.045)">0.80</text>
<text x="0" y="0" class="b" font-size="29" text-anchor="middle" transform="translate(211.68,764.3) scale(1,1.045)">0.85</text>
<text x="0" y="0" class="b" font-size="29" text-anchor="middle" transform="translate(322.65,764.3) scale(1,1.045)">0.90</text>
<text x="0" y="0" class="b" font-size="29" text-anchor="middle" transform="translate(433.62,764.3) scale(1,1.045)">0.95</text>
<text x="0" y="0" class="b" font-size="29" text-anchor="middle" transform="translate(544.60,764.3) scale(1,1.045)">1.00</text>
<text x="0" y="0" class="b" font-size="29" text-anchor="middle" transform="translate(655.58,764.3) scale(1,1.045)">1.05</text>
<text x="0" y="0" class="b" font-size="29" text-anchor="middle" transform="translate(766.55,764.3) scale(1,1.045)">1.10</text>
<text x="0" y="0" class="b" font-size="29" text-anchor="middle" transform="translate(877.53,764.3) scale(1,1.045)">1.15</text>
<text x="0" y="0" class="b" font-size="29" text-anchor="middle" transform="translate(988.50,764.3) scale(1,1.045)">1.20</text>
<text x="545.6" y="820.2" class="b" font-size="31.6" text-anchor="middle">Emission wavelength (<tspan font-weight="normal">&#956;</tspan>m)</text>
<text x="0" y="0" class="b" font-size="32.8" text-anchor="middle" transform="translate(39.2,390.4) rotate(-90)">PL intensity (arb. u.)</text>
<text x="0" y="0" class="b" font-size="26.3" transform="translate(132.3,607.0) scale(1,1.06)">GaAs</text>
<text x="0" y="0" class="r" font-size="27" transform="translate(274.30,601.00) rotate(-90)">0.876 <tspan font-weight="bold" font-size="25.5">&#956;</tspan>m</text>
<text x="0" y="0" class="r" font-size="27" transform="translate(377.60,295.20) rotate(-90)">0.920 <tspan font-weight="bold" font-size="25.5">&#956;</tspan>m</text>
<text x="0" y="0" class="r" font-size="27" transform="translate(452.10,297.70) rotate(-90)">0.955 <tspan font-weight="bold" font-size="25.5">&#956;</tspan>m</text>
<text x="0" y="0" class="r" font-size="27" transform="translate(573.00,363.40) rotate(-90)">1.01 <tspan font-weight="bold" font-size="25.5">&#956;</tspan>m</text>
<text x="0" y="0" class="r" font-size="27" transform="translate(646.00,232.00) rotate(-90)">1.04 <tspan font-weight="bold" font-size="25.5">&#956;</tspan>m</text>
</svg>
</body></html>
